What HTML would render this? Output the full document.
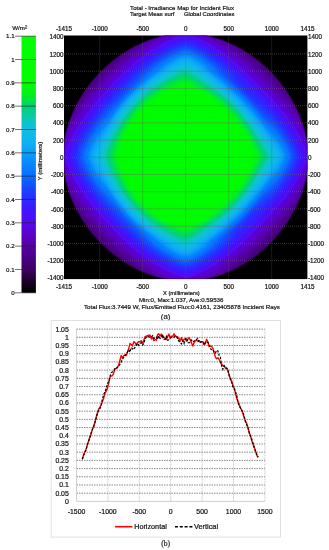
<!DOCTYPE html>
<html><head><meta charset="utf-8"><style>
html,body{margin:0;padding:0;background:#fff;}
body{width:329px;height:550px;overflow:hidden;position:relative;}
svg{position:absolute;left:0;top:0;}
.m{font-family:"Liberation Sans",Arial,sans-serif;font-size:6.15px;fill:#111;stroke:#111;stroke-width:0.2px;}
.c{font-family:"Liberation Sans",Arial,sans-serif;font-size:6.9px;fill:#111;stroke:#111;stroke-width:0.2px;}
.t{font-size:6.3px;}
</style></head><body>
<svg width="329" height="550" viewBox="0 0 329 550">

<defs>
<linearGradient id="cb" x1="0" y1="1" x2="0" y2="0">
<stop offset="0" stop-color="#000000"/>
<stop offset="0.05" stop-color="#1e002d"/>
<stop offset="0.09" stop-color="#3e0064"/>
<stop offset="0.14" stop-color="#4b0087"/>
<stop offset="0.18" stop-color="#5500a5"/>
<stop offset="0.23" stop-color="#5c03c8"/>
<stop offset="0.27" stop-color="#5508ee"/>
<stop offset="0.32" stop-color="#4114ff"/>
<stop offset="0.36" stop-color="#2d28ff"/>
<stop offset="0.41" stop-color="#1648ff"/>
<stop offset="0.45" stop-color="#0a69ff"/>
<stop offset="0.5" stop-color="#0587ff"/>
<stop offset="0.55" stop-color="#0aa0fa"/>
<stop offset="0.59" stop-color="#0fb4f0"/>
<stop offset="0.64" stop-color="#0fbee1"/>
<stop offset="0.68" stop-color="#0ac8b4"/>
<stop offset="0.73" stop-color="#00d26e"/>
<stop offset="0.77" stop-color="#00f01e"/>
<stop offset="0.82" stop-color="#00ff00"/>
<stop offset="1" stop-color="#00ff00"/>
</linearGradient>
<clipPath id="disk"><path d="M308.60 157.30L308.53 154.08L308.35 150.87L308.06 147.66L307.68 144.47L307.21 141.29L306.64 138.13L305.98 134.99L305.25 131.87L304.43 128.77L303.52 125.70L302.55 122.66L301.49 119.65L300.36 116.66L299.16 113.71L297.88 110.79L296.54 107.91L295.12 105.06L293.64 102.25L292.10 99.48L290.49 96.74L288.82 94.05L287.08 91.40L285.29 88.79L283.44 86.22L281.52 83.70L279.55 81.22L277.53 78.79L275.44 76.40L273.31 74.07L271.12 71.78L268.87 69.55L266.58 67.36L264.23 65.23L261.84 63.15L259.39 61.13L256.90 59.16L254.36 57.25L251.77 55.40L249.14 53.61L246.46 51.88L243.74 50.22L240.98 48.62L238.17 47.08L235.33 45.61L232.44 44.21L229.52 42.89L226.56 41.63L223.57 40.45L220.54 39.35L217.48 38.32L214.39 37.38L211.27 36.52L208.13 35.75L204.96 35.06L201.77 34.47L198.56 33.97L195.34 33.56L192.10 33.26L188.85 33.07L185.60 33.00L182.35 33.07L179.10 33.26L175.86 33.56L172.64 33.97L169.43 34.47L166.24 35.06L163.07 35.75L159.93 36.52L156.81 37.38L153.72 38.32L150.66 39.35L147.63 40.45L144.64 41.63L141.68 42.89L138.76 44.21L135.87 45.61L133.03 47.08L130.22 48.62L127.46 50.22L124.74 51.88L122.06 53.61L119.43 55.40L116.84 57.25L114.30 59.16L111.81 61.13L109.36 63.15L106.97 65.23L104.62 67.36L102.33 69.55L100.08 71.78L97.89 74.07L95.76 76.40L93.67 78.79L91.65 81.22L89.68 83.70L87.76 86.22L85.91 88.79L84.12 91.40L82.38 94.05L80.71 96.74L79.10 99.48L77.56 102.25L76.08 105.06L74.66 107.91L73.32 110.79L72.04 113.71L70.84 116.66L69.71 119.65L68.65 122.66L67.68 125.70L66.77 128.77L65.95 131.87L65.22 134.99L64.56 138.13L63.99 141.29L63.52 144.47L63.14 147.66L62.85 150.87L62.67 154.08L62.60 157.30L62.67 160.52L62.85 163.73L63.14 166.94L63.52 170.13L63.99 173.31L64.56 176.47L65.22 179.61L65.95 182.73L66.77 185.83L67.68 188.90L68.65 191.94L69.71 194.95L70.84 197.94L72.04 200.89L73.32 203.81L74.66 206.69L76.08 209.54L77.56 212.35L79.10 215.12L80.71 217.86L82.38 220.55L84.12 223.20L85.91 225.81L87.76 228.38L89.68 230.90L91.65 233.38L93.67 235.81L95.76 238.20L97.89 240.53L100.08 242.82L102.33 245.05L104.62 247.24L106.97 249.37L109.36 251.45L111.81 253.47L114.30 255.44L116.84 257.35L119.43 259.20L122.06 260.99L124.74 262.72L127.46 264.38L130.22 265.98L133.03 267.52L135.87 268.99L138.76 270.39L141.68 271.71L144.64 272.97L147.63 274.15L150.66 275.25L153.72 276.28L156.81 277.22L159.93 278.08L163.07 278.85L166.24 279.54L169.43 280.13L172.64 280.63L175.86 281.04L179.10 281.34L182.35 281.53L185.60 281.60L188.85 281.53L192.10 281.34L195.34 281.04L198.56 280.63L201.77 280.13L204.96 279.54L208.13 278.85L211.27 278.08L214.39 277.22L217.48 276.28L220.54 275.25L223.57 274.15L226.56 272.97L229.52 271.71L232.44 270.39L235.33 268.99L238.17 267.52L240.98 265.98L243.74 264.38L246.46 262.72L249.14 260.99L251.77 259.20L254.36 257.35L256.90 255.44L259.39 253.47L261.84 251.45L264.23 249.37L266.58 247.24L268.87 245.05L271.12 242.82L273.31 240.53L275.44 238.20L277.53 235.81L279.55 233.38L281.52 230.90L283.44 228.38L285.29 225.81L287.08 223.20L288.82 220.55L290.49 217.86L292.10 215.12L293.64 212.35L295.12 209.54L296.54 206.69L297.88 203.81L299.16 200.89L300.36 197.94L301.49 194.95L302.55 191.94L303.52 188.90L304.43 185.83L305.25 182.73L305.98 179.61L306.64 176.47L307.21 173.31L307.68 170.13L308.06 166.94L308.35 163.73L308.53 160.52Z"/></clipPath>
<clipPath id="sq"><rect x="64" y="35.5" width="243.4" height="243.6"/></clipPath>
<filter id="bl" x="-5%" y="-5%" width="110%" height="110%"><feGaussianBlur stdDeviation="1.2"/></filter>
</defs>
<text class="m" x="130.1" y="9.9" textLength="103.9" lengthAdjust="spacingAndGlyphs">Total - Irradiance Map for Incident Flux</text>
<text class="m" x="130.1" y="16.3" textLength="44.3" lengthAdjust="spacingAndGlyphs">Target Meas surf</text>
<text class="m" x="183.9" y="16.3" textLength="50.5" lengthAdjust="spacingAndGlyphs">Global Coordinates</text>
<rect x="21.5" y="36.2" width="14.4" height="256.6" fill="url(#cb)"/>
<line x1="15" x2="35.9" y1="292.8" y2="292.8" stroke="#222" stroke-opacity="0.7" stroke-width="0.9"/>
<text class="m" x="14.6" y="295" text-anchor="end">0</text>
<line x1="15" x2="35.9" y1="269.47" y2="269.47" stroke="#222" stroke-opacity="0.7" stroke-width="0.9"/>
<text class="m" x="14.6" y="271.67" text-anchor="end">0.1</text>
<line x1="15" x2="35.9" y1="246.15" y2="246.15" stroke="#222" stroke-opacity="0.7" stroke-width="0.9"/>
<text class="m" x="14.6" y="248.35" text-anchor="end">0.2</text>
<line x1="15" x2="35.9" y1="222.82" y2="222.82" stroke="#222" stroke-opacity="0.7" stroke-width="0.9"/>
<text class="m" x="14.6" y="225.02" text-anchor="end">0.3</text>
<line x1="15" x2="35.9" y1="199.49" y2="199.49" stroke="#222" stroke-opacity="0.7" stroke-width="0.9"/>
<text class="m" x="14.6" y="201.69" text-anchor="end">0.4</text>
<line x1="15" x2="35.9" y1="176.16" y2="176.16" stroke="#222" stroke-opacity="0.7" stroke-width="0.9"/>
<text class="m" x="14.6" y="178.36" text-anchor="end">0.5</text>
<line x1="15" x2="35.9" y1="152.84" y2="152.84" stroke="#222" stroke-opacity="0.7" stroke-width="0.9"/>
<text class="m" x="14.6" y="155.04" text-anchor="end">0.6</text>
<line x1="15" x2="35.9" y1="129.51" y2="129.51" stroke="#222" stroke-opacity="0.7" stroke-width="0.9"/>
<text class="m" x="14.6" y="131.71" text-anchor="end">0.7</text>
<line x1="15" x2="35.9" y1="106.18" y2="106.18" stroke="#222" stroke-opacity="0.7" stroke-width="0.9"/>
<text class="m" x="14.6" y="108.38" text-anchor="end">0.8</text>
<line x1="15" x2="35.9" y1="82.85" y2="82.85" stroke="#222" stroke-opacity="0.7" stroke-width="0.9"/>
<text class="m" x="14.6" y="85.05" text-anchor="end">0.9</text>
<line x1="15" x2="35.9" y1="59.53" y2="59.53" stroke="#222" stroke-opacity="0.7" stroke-width="0.9"/>
<text class="m" x="14.6" y="61.73" text-anchor="end">1</text>
<line x1="15" x2="35.9" y1="36.2" y2="36.2" stroke="#222" stroke-opacity="0.7" stroke-width="0.9"/>
<text class="m" x="14.6" y="38.4" text-anchor="end">1.1</text>
<text class="m" x="12.2" y="30.4">W/m<tspan style="font-size:7.6px;stroke-width:0.1px" dy="0.6">²</tspan></text>
<text class="m" transform="translate(42.3,180.4) rotate(-90)" textLength="38.6" lengthAdjust="spacingAndGlyphs">Y (millimeters)</text>
<rect x="64" y="35.5" width="243.4" height="243.6" fill="#000"/>
<g clip-path="url(#sq)"><g clip-path="url(#disk)"><g filter="url(#bl)">
<rect x="59" y="30.5" width="253.4" height="253.6" fill="#380059"/>
<path d="M320.2 156.0L320.1 151.3L319.8 146.6L319.4 142.0L318.9 137.3L318.1 132.7L317.2 128.1L316.2 123.5L315.0 119.0L312.6 114.9L309.9 110.9L307.2 107.0L304.4 103.3L301.6 99.6L298.8 96.0L295.9 92.6L293.0 89.1L290.1 85.8L287.2 82.5L284.2 79.3L281.2 76.1L278.2 72.9L275.2 69.9L272.1 66.8L269.1 63.8L265.9 60.8L262.7 57.8L259.5 54.8L256.2 51.9L252.9 49.0L249.4 46.1L246.0 43.2L242.4 40.4L238.7 37.6L235.0 34.8L231.1 32.1L227.1 29.4L223.0 27.0L218.5 25.8L213.9 24.8L209.3 23.9L204.7 23.1L200.0 22.6L195.4 22.2L190.7 21.9L186.0 21.8L181.3 21.9L176.6 22.2L172.0 22.6L167.3 23.1L162.7 23.9L158.1 24.8L153.5 25.8L149.0 27.0L144.8 29.3L140.9 32.0L137.0 34.7L133.2 37.4L129.5 40.2L125.9 43.0L122.4 45.9L119.0 48.7L115.6 51.6L112.3 54.6L109.0 57.5L105.8 60.5L102.7 63.5L99.6 66.5L96.5 69.6L93.5 72.7L90.5 75.8L87.5 79.0L84.6 82.3L81.6 85.6L78.7 89.0L75.9 92.4L73.0 95.9L70.2 99.5L67.4 103.2L64.7 107.0L62.0 110.9L59.3 114.8L57.0 119.0L55.8 123.5L54.8 128.1L53.9 132.7L53.1 137.3L52.6 142.0L52.2 146.6L51.9 151.3L51.8 156.0L51.9 160.7L52.2 165.4L52.6 170.0L53.1 174.7L53.9 179.3L54.8 183.9L55.8 188.5L57.0 193.0L59.3 197.2L62.0 201.1L64.7 205.0L67.4 208.8L70.2 212.5L73.0 216.1L75.9 219.6L78.7 223.0L81.6 226.4L84.6 229.7L87.5 233.0L90.5 236.2L93.5 239.3L96.5 242.4L99.6 245.5L102.7 248.5L105.8 251.5L109.0 254.5L112.3 257.4L115.6 260.4L119.0 263.3L122.4 266.1L125.9 269.0L129.5 271.8L133.2 274.6L137.0 277.3L140.9 280.0L144.8 282.7L149.0 285.0L153.5 286.2L158.1 287.2L162.7 288.1L167.3 288.9L172.0 289.4L176.6 289.8L181.3 290.1L186.0 290.2L190.7 290.1L195.4 289.8L200.0 289.4L204.7 288.9L209.3 288.1L213.9 287.2L218.5 286.2L223.0 285.0L227.1 282.6L231.1 279.9L235.0 277.2L238.7 274.4L242.4 271.6L246.0 268.8L249.4 265.9L252.9 263.0L256.2 260.1L259.5 257.2L262.7 254.2L265.9 251.2L269.1 248.2L272.1 245.2L275.2 242.1L278.2 239.1L281.2 235.9L284.2 232.7L287.2 229.5L290.1 226.2L293.0 222.9L295.9 219.4L298.8 216.0L301.6 212.4L304.4 208.7L307.2 205.0L309.9 201.1L312.6 197.1L315.0 193.0L316.2 188.5L317.2 183.9L318.1 179.3L318.9 174.7L319.4 170.0L319.8 165.4L320.1 160.7Z" fill="#41006b"/>
<path d="M320.2 156.0L320.1 151.3L319.8 146.6L319.4 142.0L318.9 137.3L318.1 132.7L316.4 128.3L314.0 124.1L311.5 120.0L308.9 116.1L306.3 112.2L303.6 108.5L300.9 104.8L298.2 101.3L295.4 97.8L292.6 94.4L289.8 91.1L287.0 87.9L284.2 84.7L281.3 81.6L278.4 78.5L275.5 75.4L272.5 72.4L269.6 69.5L266.6 66.5L263.5 63.6L260.4 60.7L257.3 57.8L254.1 55.0L250.9 52.2L247.6 49.4L244.2 46.6L240.7 43.8L237.2 41.1L233.5 38.4L229.8 35.7L225.9 33.1L222.0 30.5L217.9 28.0L213.7 25.6L209.3 23.9L204.7 23.1L200.0 22.6L195.4 22.2L190.7 21.9L186.0 21.8L181.3 21.9L176.6 22.2L172.0 22.6L167.3 23.1L162.7 23.9L158.3 25.6L154.1 27.9L150.0 30.4L146.0 32.9L142.1 35.5L138.4 38.1L134.7 40.8L131.1 43.5L127.7 46.3L124.2 49.0L120.9 51.8L117.6 54.6L114.4 57.5L111.3 60.4L108.2 63.2L105.1 66.2L102.1 69.1L99.1 72.1L96.2 75.1L93.2 78.2L90.4 81.3L87.5 84.4L84.6 87.6L81.8 90.9L79.0 94.2L76.3 97.7L73.5 101.1L70.8 104.7L68.1 108.4L65.5 112.1L62.9 116.0L60.4 120.0L57.9 124.1L55.6 128.3L53.9 132.7L53.1 137.3L52.6 142.0L52.2 146.6L51.9 151.3L51.8 156.0L51.9 160.7L52.2 165.4L52.6 170.0L53.1 174.7L53.9 179.3L55.6 183.7L57.9 187.9L60.4 192.0L62.9 196.0L65.5 199.9L68.1 203.6L70.8 207.3L73.5 210.9L76.3 214.3L79.0 217.8L81.8 221.1L84.6 224.4L87.5 227.6L90.4 230.7L93.2 233.8L96.2 236.9L99.1 239.9L102.1 242.9L105.1 245.8L108.2 248.8L111.3 251.6L114.4 254.5L117.6 257.4L120.9 260.2L124.2 263.0L127.7 265.7L131.1 268.5L134.7 271.2L138.4 273.9L142.1 276.5L146.0 279.1L150.0 281.6L154.1 284.1L158.3 286.4L162.7 288.1L167.3 288.9L172.0 289.4L176.6 289.8L181.3 290.1L186.0 290.2L190.7 290.1L195.4 289.8L200.0 289.4L204.7 288.9L209.3 288.1L213.7 286.4L217.9 284.0L222.0 281.5L225.9 278.9L229.8 276.3L233.5 273.6L237.2 270.9L240.7 268.2L244.2 265.4L247.6 262.6L250.9 259.8L254.1 257.0L257.3 254.2L260.4 251.3L263.5 248.4L266.6 245.5L269.6 242.5L272.5 239.6L275.5 236.6L278.4 233.5L281.3 230.4L284.2 227.3L287.0 224.1L289.8 220.9L292.6 217.6L295.4 214.2L298.2 210.7L300.9 207.2L303.6 203.5L306.3 199.8L308.9 195.9L311.5 192.0L314.0 187.9L316.4 183.7L318.1 179.3L318.9 174.7L319.4 170.0L319.8 165.4L320.1 160.7Z" fill="#460079"/>
<path d="M320.2 156.0L320.1 151.3L319.8 146.6L319.4 142.0L318.2 137.4L316.1 133.1L313.8 128.8L311.5 124.7L309.0 120.7L306.5 116.8L303.9 113.1L301.3 109.4L298.6 105.9L295.9 102.4L293.2 99.0L290.5 95.7L287.7 92.4L284.9 89.3L282.1 86.1L279.3 83.1L276.5 80.1L273.7 77.1L270.8 74.1L267.9 71.2L264.9 68.3L262.0 65.5L258.9 62.6L255.9 59.8L252.7 57.0L249.6 54.3L246.3 51.5L243.0 48.8L239.6 46.1L236.1 43.4L232.6 40.7L228.9 38.1L225.2 35.5L221.3 33.0L217.3 30.5L213.2 28.2L208.9 25.9L204.6 23.8L200.0 22.6L195.4 22.2L190.7 21.9L186.0 21.8L181.3 21.9L176.6 22.2L172.0 22.6L167.4 23.8L163.1 25.8L158.8 28.1L154.7 30.4L150.7 32.8L146.8 35.3L143.0 37.9L139.3 40.4L135.7 43.1L132.2 45.7L128.8 48.4L125.5 51.2L122.2 53.9L119.0 56.6L115.8 59.4L112.7 62.2L109.7 65.0L106.7 67.9L103.7 70.8L100.8 73.7L97.9 76.7L95.1 79.7L92.2 82.7L89.4 85.8L86.6 89.0L83.9 92.2L81.2 95.5L78.4 98.8L75.7 102.2L73.1 105.7L70.4 109.3L67.9 113.0L65.3 116.8L62.8 120.7L60.4 124.7L58.1 128.8L55.8 133.1L53.8 137.4L52.6 142.0L52.2 146.6L51.9 151.3L51.8 156.0L51.9 160.7L52.2 165.4L52.6 170.0L53.8 174.6L55.8 178.9L58.1 183.2L60.4 187.3L62.8 191.3L65.3 195.2L67.9 199.0L70.4 202.7L73.1 206.3L75.7 209.8L78.4 213.2L81.2 216.5L83.9 219.8L86.6 223.0L89.4 226.2L92.2 229.3L95.1 232.3L97.9 235.3L100.8 238.3L103.7 241.2L106.7 244.1L109.7 247.0L112.7 249.8L115.8 252.6L119.0 255.4L122.2 258.1L125.5 260.8L128.8 263.6L132.2 266.3L135.7 268.9L139.3 271.6L143.0 274.1L146.8 276.7L150.7 279.2L154.7 281.6L158.8 283.9L163.1 286.2L167.4 288.2L172.0 289.4L176.6 289.8L181.3 290.1L186.0 290.2L190.7 290.1L195.4 289.8L200.0 289.4L204.6 288.2L208.9 286.1L213.2 283.8L217.3 281.5L221.3 279.0L225.2 276.5L228.9 273.9L232.6 271.3L236.1 268.6L239.6 265.9L243.0 263.2L246.3 260.5L249.6 257.7L252.7 255.0L255.9 252.2L258.9 249.4L262.0 246.5L264.9 243.7L267.9 240.8L270.8 237.9L273.7 234.9L276.5 231.9L279.3 228.9L282.1 225.9L284.9 222.7L287.7 219.6L290.5 216.3L293.2 213.0L295.9 209.6L298.6 206.1L301.3 202.6L303.9 198.9L306.5 195.2L309.0 191.3L311.5 187.3L313.8 183.2L316.1 178.9L318.2 174.6L319.4 170.0L319.8 165.4L320.1 160.7Z" fill="#4b0087"/>
<path d="M320.2 156.0L320.1 151.3L319.3 146.7L317.6 142.2L315.6 137.8L313.5 133.5L311.3 129.4L309.0 125.3L306.6 121.4L304.1 117.6L301.5 113.9L298.9 110.4L296.3 106.9L293.7 103.5L291.0 100.2L288.3 96.9L285.6 93.8L282.9 90.6L280.2 87.6L277.4 84.6L274.6 81.6L271.9 78.7L269.0 75.8L266.2 73.0L263.3 70.1L260.4 67.3L257.5 64.5L254.5 61.8L251.4 59.0L248.3 56.3L245.1 53.6L241.9 51.0L238.5 48.3L235.1 45.7L231.6 43.1L228.1 40.5L224.4 37.9L220.6 35.4L216.7 33.0L212.6 30.7L208.5 28.5L204.2 26.4L199.8 24.4L195.3 22.7L190.7 21.9L186.0 21.8L181.3 21.9L176.7 22.7L172.2 24.4L167.8 26.3L163.5 28.4L159.3 30.6L155.3 32.9L151.4 35.2L147.6 37.7L143.8 40.2L140.2 42.7L136.7 45.3L133.3 47.9L129.9 50.5L126.6 53.2L123.4 55.8L120.3 58.5L117.2 61.3L114.1 64.0L111.1 66.8L108.2 69.6L105.3 72.4L102.5 75.3L99.6 78.2L96.8 81.2L94.1 84.2L91.3 87.2L88.6 90.3L85.9 93.5L83.3 96.7L80.6 100.0L77.9 103.3L75.3 106.7L72.7 110.2L70.2 113.8L67.7 117.6L65.2 121.4L62.9 125.3L60.6 129.3L58.4 133.5L56.3 137.8L54.4 142.2L52.7 146.7L51.9 151.3L51.8 156.0L51.9 160.7L52.7 165.3L54.4 169.8L56.3 174.2L58.4 178.5L60.6 182.7L62.9 186.7L65.2 190.6L67.7 194.4L70.2 198.2L72.7 201.8L75.3 205.3L77.9 208.7L80.6 212.0L83.3 215.3L85.9 218.5L88.6 221.7L91.3 224.8L94.1 227.8L96.8 230.8L99.6 233.8L102.5 236.7L105.3 239.6L108.2 242.4L111.1 245.2L114.1 248.0L117.2 250.7L120.3 253.5L123.4 256.2L126.6 258.8L129.9 261.5L133.3 264.1L136.7 266.7L140.2 269.3L143.8 271.8L147.6 274.3L151.4 276.8L155.3 279.1L159.3 281.4L163.5 283.6L167.8 285.7L172.2 287.6L176.7 289.3L181.3 290.1L186.0 290.2L190.7 290.1L195.3 289.3L199.8 287.6L204.2 285.6L208.5 283.5L212.6 281.3L216.7 279.0L220.6 276.6L224.4 274.1L228.1 271.5L231.6 268.9L235.1 266.3L238.5 263.7L241.9 261.0L245.1 258.4L248.3 255.7L251.4 253.0L254.5 250.2L257.5 247.5L260.4 244.7L263.3 241.9L266.2 239.0L269.0 236.2L271.9 233.3L274.6 230.4L277.4 227.4L280.2 224.4L282.9 221.4L285.6 218.2L288.3 215.1L291.0 211.8L293.7 208.5L296.3 205.1L298.9 201.6L301.5 198.1L304.1 194.4L306.6 190.6L309.0 186.7L311.3 182.6L313.5 178.5L315.6 174.2L317.6 169.8L319.3 165.3L320.1 160.7Z" fill="#4f0093"/>
<path d="M319.1 156.0L318.3 151.4L316.9 146.8L315.2 142.4L313.3 138.1L311.3 133.9L309.1 129.8L306.7 125.9L304.4 122.1L301.9 118.3L299.4 114.7L296.8 111.2L294.3 107.8L291.7 104.5L289.0 101.2L286.4 98.0L283.7 94.9L281.1 91.9L278.4 88.9L275.7 85.9L273.0 83.0L270.2 80.2L267.5 77.3L264.7 74.5L261.9 71.7L259.0 69.0L256.1 66.3L253.2 63.5L250.2 60.8L247.1 58.2L244.0 55.5L240.8 52.9L237.6 50.3L234.2 47.7L230.8 45.1L227.3 42.6L223.7 40.1L219.9 37.6L216.1 35.3L212.2 32.9L208.1 30.7L203.9 28.7L199.6 26.8L195.2 25.1L190.6 23.7L186.0 22.9L181.4 23.7L176.8 25.0L172.4 26.7L168.1 28.6L163.9 30.6L159.8 32.8L155.8 35.1L152.0 37.4L148.3 39.8L144.6 42.3L141.1 44.8L137.6 47.3L134.2 49.8L130.9 52.3L127.7 54.9L124.5 57.6L121.4 60.2L118.4 62.9L115.4 65.6L112.5 68.4L109.6 71.1L106.8 73.9L104.0 76.8L101.2 79.6L98.5 82.5L95.8 85.5L93.1 88.5L90.4 91.5L87.8 94.6L85.1 97.8L82.5 101.0L79.9 104.3L77.4 107.6L74.8 111.1L72.3 114.6L69.8 118.3L67.4 122.0L65.1 125.8L62.8 129.8L60.6 133.9L58.6 138.1L56.7 142.4L55.0 146.8L53.7 151.4L52.9 156.0L53.7 160.6L55.0 165.2L56.7 169.6L58.6 173.9L60.6 178.1L62.8 182.2L65.1 186.2L67.4 190.0L69.8 193.7L72.3 197.4L74.8 200.9L77.4 204.4L79.9 207.7L82.5 211.0L85.1 214.2L87.8 217.4L90.4 220.5L93.1 223.5L95.8 226.5L98.5 229.5L101.2 232.4L104.0 235.2L106.8 238.1L109.6 240.9L112.5 243.6L115.4 246.4L118.4 249.1L121.4 251.8L124.5 254.4L127.7 257.1L130.9 259.7L134.2 262.2L137.6 264.7L141.1 267.2L144.6 269.7L148.3 272.2L152.0 274.6L155.8 276.9L159.8 279.2L163.9 281.4L168.1 283.4L172.4 285.3L176.8 287.0L181.4 288.3L186.0 289.1L190.6 288.3L195.2 286.9L199.6 285.2L203.9 283.3L208.1 281.3L212.2 279.1L216.1 276.7L219.9 274.4L223.7 271.9L227.3 269.4L230.8 266.9L234.2 264.3L237.6 261.7L240.8 259.1L244.0 256.5L247.1 253.8L250.2 251.2L253.2 248.5L256.1 245.7L259.0 243.0L261.9 240.3L264.7 237.5L267.5 234.7L270.2 231.8L273.0 229.0L275.7 226.1L278.4 223.1L281.1 220.1L283.7 217.1L286.4 214.0L289.0 210.8L291.7 207.5L294.3 204.2L296.8 200.8L299.4 197.3L301.9 193.7L304.4 189.9L306.7 186.1L309.1 182.2L311.3 178.1L313.3 173.9L315.2 169.6L316.9 165.2L318.3 160.6Z" fill="#53009f"/>
<path d="M317.1 156.0L316.2 151.5L314.9 147.0L313.2 142.6L311.3 138.4L309.2 134.3L307.0 130.3L304.8 126.4L302.4 122.6L300.0 119.0L297.5 115.4L295.0 112.0L292.4 108.6L289.9 105.3L287.3 102.1L284.7 99.0L282.1 96.0L279.5 93.0L276.8 90.0L274.2 87.1L271.5 84.3L268.8 81.5L266.1 78.7L263.3 75.9L260.6 73.2L257.8 70.5L254.9 67.8L252.0 65.1L249.1 62.4L246.1 59.8L243.1 57.2L239.9 54.6L236.7 52.0L233.5 49.4L230.1 46.9L226.6 44.4L223.0 42.0L219.4 39.6L215.6 37.2L211.7 35.0L207.7 32.8L203.6 30.7L199.4 28.8L195.0 27.1L190.5 25.8L186.0 24.9L181.5 25.7L177.0 27.1L172.6 28.7L168.4 30.6L164.2 32.6L160.2 34.8L156.3 37.0L152.5 39.3L148.9 41.7L145.3 44.1L141.7 46.5L138.3 48.9L135.0 51.4L131.7 54.0L128.6 56.5L125.5 59.1L122.4 61.7L119.4 64.4L116.5 67.1L113.7 69.8L110.8 72.5L108.0 75.3L105.3 78.1L102.6 80.9L99.9 83.7L97.2 86.6L94.6 89.6L92.0 92.6L89.4 95.6L86.8 98.7L84.2 101.9L81.7 105.1L79.2 108.4L76.7 111.8L74.2 115.3L71.7 118.9L69.3 122.5L67.0 126.3L64.8 130.2L62.6 134.2L60.6 138.4L58.7 142.6L57.1 147.0L55.7 151.5L54.9 156.0L55.7 160.5L57.1 165.0L58.7 169.4L60.6 173.6L62.6 177.8L64.8 181.8L67.0 185.7L69.3 189.5L71.7 193.1L74.2 196.7L76.7 200.2L79.2 203.6L81.7 206.9L84.2 210.1L86.8 213.3L89.4 216.4L92.0 219.4L94.6 222.4L97.2 225.4L99.9 228.3L102.6 231.1L105.3 233.9L108.0 236.7L110.8 239.5L113.7 242.2L116.5 244.9L119.4 247.6L122.4 250.3L125.5 252.9L128.6 255.5L131.7 258.0L135.0 260.6L138.3 263.1L141.7 265.5L145.3 267.9L148.9 270.3L152.5 272.7L156.3 275.0L160.2 277.2L164.2 279.4L168.4 281.4L172.6 283.3L177.0 284.9L181.5 286.3L186.0 287.1L190.5 286.2L195.0 284.9L199.4 283.2L203.6 281.3L207.7 279.2L211.7 277.0L215.6 274.8L219.4 272.4L223.0 270.0L226.6 267.6L230.1 265.1L233.5 262.6L236.7 260.0L239.9 257.4L243.1 254.8L246.1 252.2L249.1 249.6L252.0 246.9L254.9 244.2L257.8 241.5L260.6 238.8L263.3 236.1L266.1 233.3L268.8 230.5L271.5 227.7L274.2 224.9L276.8 222.0L279.5 219.0L282.1 216.0L284.7 213.0L287.3 209.9L289.9 206.7L292.4 203.4L295.0 200.0L297.5 196.6L300.0 193.0L302.4 189.4L304.8 185.6L307.0 181.7L309.2 177.7L311.3 173.6L313.2 169.4L314.9 165.0L316.2 160.5Z" fill="#5601ac"/>
<path d="M315.0 156.0L314.2 151.5L312.8 147.1L311.1 142.8L309.2 138.7L307.2 134.6L305.0 130.7L302.8 126.9L300.4 123.2L298.1 119.6L295.6 116.1L293.1 112.7L290.6 109.4L288.1 106.2L285.6 103.1L283.0 100.0L280.4 97.0L277.8 94.1L275.2 91.2L272.6 88.3L270.0 85.5L267.4 82.7L264.7 80.0L262.0 77.3L259.3 74.6L256.5 71.9L253.7 69.3L250.9 66.6L248.0 64.0L245.1 61.4L242.1 58.8L239.0 56.3L235.9 53.7L232.7 51.2L229.4 48.7L226.0 46.2L222.4 43.8L218.8 41.5L215.1 39.2L211.3 37.0L207.4 34.8L203.3 32.8L199.2 30.9L194.9 29.2L190.5 27.8L186.0 27.0L181.5 27.8L177.1 29.2L172.8 30.8L168.7 32.6L164.6 34.6L160.7 36.8L156.8 39.0L153.1 41.2L149.4 43.4L145.9 45.8L142.4 48.2L139.1 50.6L135.8 53.1L132.6 55.6L129.5 58.1L126.4 60.7L123.4 63.3L120.5 65.9L117.7 68.5L114.8 71.2L112.1 73.9L109.3 76.6L106.6 79.3L104.0 82.1L101.3 84.9L98.7 87.8L96.1 90.7L93.6 93.6L91.0 96.6L88.5 99.7L86.0 102.8L83.5 106.0L81.0 109.2L78.5 112.6L76.1 116.0L73.7 119.5L71.3 123.1L69.0 126.8L66.8 130.7L64.6 134.6L62.6 138.7L60.8 142.8L59.2 147.1L57.8 151.5L57.0 156.0L57.8 160.5L59.2 164.9L60.8 169.2L62.6 173.3L64.6 177.4L66.8 181.3L69.0 185.2L71.3 188.9L73.7 192.5L76.1 196.0L78.5 199.4L81.0 202.8L83.5 206.0L86.0 209.2L88.5 212.3L91.0 215.4L93.6 218.4L96.1 221.3L98.7 224.2L101.3 227.1L104.0 229.9L106.6 232.7L109.3 235.4L112.1 238.1L114.8 240.8L117.7 243.5L120.5 246.1L123.4 248.7L126.4 251.3L129.5 253.9L132.6 256.4L135.8 258.9L139.1 261.4L142.4 263.8L145.9 266.2L149.4 268.6L153.1 270.8L156.8 273.0L160.7 275.2L164.6 277.4L168.7 279.4L172.8 281.2L177.1 282.8L181.5 284.2L186.0 285.0L190.5 284.2L194.9 282.8L199.2 281.1L203.3 279.2L207.4 277.2L211.3 275.0L215.1 272.8L218.8 270.5L222.4 268.2L226.0 265.8L229.4 263.3L232.7 260.8L235.9 258.3L239.0 255.7L242.1 253.2L245.1 250.6L248.0 248.0L250.9 245.4L253.7 242.7L256.5 240.1L259.3 237.4L262.0 234.7L264.7 232.0L267.4 229.3L270.0 226.5L272.6 223.7L275.2 220.8L277.8 217.9L280.4 215.0L283.0 212.0L285.6 208.9L288.1 205.8L290.6 202.6L293.1 199.3L295.6 195.9L298.1 192.4L300.4 188.8L302.8 185.1L305.0 181.3L307.2 177.4L309.2 173.3L311.1 169.2L312.8 164.9L314.2 160.5Z" fill="#5902ba"/>
<path d="M312.8 156.0L312.0 151.6L310.6 147.3L308.9 143.1L307.1 139.0L305.0 135.0L302.9 131.2L300.7 127.4L298.4 123.8L296.0 120.3L293.6 116.8L291.2 113.5L288.7 110.3L286.2 107.1L283.7 104.1L281.2 101.1L278.6 98.1L276.1 95.2L273.6 92.4L271.0 89.6L268.4 86.9L265.8 84.2L263.2 81.5L260.5 78.8L257.9 76.2L255.2 73.5L252.5 70.9L249.7 68.3L246.9 65.7L244.0 63.2L241.1 60.6L238.1 58.1L235.0 55.5L231.8 53.1L228.6 50.6L225.3 48.2L221.8 45.8L218.3 43.5L214.6 41.2L210.9 39.1L207.0 37.0L203.0 34.9L198.9 33.1L194.7 31.4L190.4 30.0L186.0 29.2L181.6 30.0L177.3 31.4L173.1 33.0L169.0 34.8L165.0 36.8L161.1 38.8L157.3 40.9L153.6 43.1L150.0 45.3L146.6 47.6L143.2 50.0L139.9 52.4L136.7 54.8L133.5 57.3L130.5 59.8L127.5 62.3L124.5 64.9L121.7 67.5L118.9 70.1L116.1 72.7L113.4 75.3L110.7 78.0L108.0 80.7L105.4 83.5L102.9 86.2L100.3 89.0L97.8 91.9L95.2 94.8L92.7 97.7L90.3 100.7L87.8 103.8L85.3 106.9L82.9 110.1L80.5 113.4L78.1 116.7L75.7 120.2L73.4 123.7L71.1 127.4L68.9 131.1L66.8 135.0L64.8 139.0L63.0 143.1L61.4 147.3L60.0 151.6L59.2 156.0L60.0 160.4L61.4 164.7L63.0 168.9L64.8 173.0L66.8 177.0L68.9 180.9L71.1 184.6L73.4 188.3L75.7 191.8L78.1 195.3L80.5 198.6L82.9 201.9L85.3 205.1L87.8 208.2L90.3 211.3L92.7 214.3L95.2 217.2L97.8 220.1L100.3 223.0L102.9 225.8L105.4 228.5L108.0 231.3L110.7 234.0L113.4 236.7L116.1 239.3L118.9 241.9L121.7 244.5L124.5 247.1L127.5 249.7L130.5 252.2L133.5 254.7L136.7 257.2L139.9 259.6L143.2 262.0L146.6 264.4L150.0 266.7L153.6 268.9L157.3 271.1L161.1 273.2L165.0 275.2L169.0 277.2L173.1 279.0L177.3 280.6L181.6 282.0L186.0 282.8L190.4 282.0L194.7 280.6L198.9 278.9L203.0 277.1L207.0 275.0L210.9 272.9L214.6 270.8L218.3 268.5L221.8 266.2L225.3 263.8L228.6 261.4L231.8 258.9L235.0 256.5L238.1 253.9L241.1 251.4L244.0 248.8L246.9 246.3L249.7 243.7L252.5 241.1L255.2 238.5L257.9 235.8L260.5 233.2L263.2 230.5L265.8 227.8L268.4 225.1L271.0 222.4L273.6 219.6L276.1 216.8L278.6 213.9L281.2 210.9L283.7 207.9L286.2 204.9L288.7 201.7L291.2 198.5L293.6 195.2L296.0 191.7L298.4 188.2L300.7 184.6L302.9 180.8L305.0 177.0L307.1 173.0L308.9 168.9L310.6 164.7L312.0 160.4Z" fill="#5c03c8"/>
<path d="M310.6 156.0L309.7 151.7L308.4 147.4L306.7 143.3L304.9 139.3L302.9 135.4L300.8 131.6L298.6 127.9L296.3 124.4L294.0 120.9L291.6 117.6L289.2 114.3L286.7 111.1L284.3 108.1L281.8 105.0L279.4 102.1L276.8 99.2L274.3 96.5L271.7 93.7L269.2 91.0L266.6 88.3L264.1 85.7L261.5 83.1L258.9 80.5L256.3 77.9L253.7 75.3L251.1 72.7L248.4 70.1L245.7 67.5L242.9 65.0L240.0 62.4L237.1 59.9L234.1 57.4L231.0 54.9L227.8 52.5L224.5 50.1L221.2 47.7L217.7 45.4L214.1 43.2L210.4 41.0L206.6 39.0L202.7 37.1L198.7 35.3L194.6 33.6L190.3 32.3L186.0 31.4L181.7 32.2L177.4 33.6L173.3 35.2L169.3 37.0L165.3 38.8L161.5 40.7L157.8 42.8L154.2 45.0L150.6 47.2L147.2 49.5L143.9 51.8L140.7 54.2L137.5 56.6L134.4 59.0L131.4 61.5L128.5 64.0L125.6 66.5L122.8 69.1L120.1 71.6L117.4 74.2L114.7 76.8L112.1 79.5L109.5 82.1L106.9 84.8L104.4 87.5L101.9 90.3L99.4 93.1L96.9 95.9L94.5 98.8L92.0 101.8L89.6 104.8L87.2 107.8L84.8 111.0L82.5 114.2L80.1 117.5L77.8 120.8L75.5 124.3L73.3 127.9L71.1 131.6L69.0 135.4L67.0 139.3L65.2 143.3L63.6 147.4L62.2 151.7L61.4 156.0L62.2 160.3L63.6 164.6L65.2 168.7L67.0 172.7L69.0 176.6L71.1 180.4L73.3 184.1L75.5 187.7L77.8 191.2L80.1 194.5L82.5 197.8L84.8 201.0L87.2 204.2L89.6 207.2L92.0 210.2L94.5 213.2L96.9 216.1L99.4 218.9L101.9 221.7L104.4 224.5L106.9 227.2L109.5 229.9L112.1 232.5L114.7 235.2L117.4 237.8L120.1 240.4L122.8 242.9L125.6 245.5L128.5 248.0L131.4 250.5L134.4 253.0L137.5 255.4L140.7 257.8L143.9 260.2L147.2 262.5L150.6 264.8L154.2 267.0L157.8 269.2L161.5 271.3L165.3 273.2L169.3 275.0L173.3 276.8L177.4 278.4L181.7 279.8L186.0 280.6L190.3 279.7L194.6 278.4L198.7 276.7L202.7 274.9L206.6 273.0L210.4 271.0L214.1 268.8L217.7 266.6L221.2 264.3L224.5 261.9L227.8 259.5L231.0 257.1L234.1 254.6L237.1 252.1L240.0 249.6L242.9 247.0L245.7 244.5L248.4 241.9L251.1 239.3L253.7 236.7L256.3 234.1L258.9 231.5L261.5 228.9L264.1 226.3L266.6 223.7L269.2 221.0L271.7 218.3L274.3 215.5L276.8 212.8L279.4 209.9L281.8 207.0L284.3 203.9L286.7 200.9L289.2 197.7L291.6 194.4L294.0 191.1L296.3 187.6L298.6 184.1L300.8 180.4L302.9 176.6L304.9 172.7L306.7 168.7L308.4 164.6L309.7 160.3Z" fill="#5905d7"/>
<path d="M308.4 156.0L307.5 151.8L306.2 147.6L304.5 143.5L302.7 139.6L300.8 135.8L298.7 132.1L296.5 128.5L294.2 125.0L291.9 121.6L289.6 118.3L287.2 115.1L284.8 112.0L282.4 109.0L279.9 106.1L277.4 103.2L274.9 100.5L272.4 97.8L269.9 95.1L267.4 92.4L264.9 89.8L262.4 87.2L259.8 84.7L257.3 82.1L254.8 79.6L252.2 77.1L249.7 74.5L247.0 72.0L244.4 69.4L241.7 66.9L238.9 64.4L236.1 61.8L233.2 59.3L230.2 56.8L227.0 54.4L223.8 52.0L220.5 49.7L217.1 47.4L213.6 45.2L210.0 43.0L206.3 41.0L202.4 39.1L198.5 37.4L194.4 35.8L190.2 34.5L186.0 33.6L181.8 34.4L177.6 35.8L173.5 37.2L169.5 38.9L165.7 40.7L161.9 42.7L158.3 44.7L154.7 46.9L151.3 49.1L147.9 51.3L144.6 53.6L141.5 56.0L138.4 58.3L135.4 60.8L132.4 63.2L129.6 65.7L126.8 68.2L124.1 70.7L121.4 73.3L118.7 75.8L116.1 78.4L113.6 81.0L111.0 83.6L108.5 86.2L106.0 88.9L103.6 91.6L101.1 94.3L98.7 97.1L96.2 99.9L93.8 102.8L91.4 105.7L89.1 108.7L86.8 111.8L84.4 115.0L82.1 118.2L79.9 121.5L77.6 124.9L75.4 128.4L73.3 132.0L71.2 135.8L69.2 139.6L67.4 143.5L65.8 147.6L64.4 151.8L63.6 156.0L64.4 160.2L65.8 164.4L67.4 168.5L69.2 172.4L71.2 176.2L73.3 180.0L75.4 183.6L77.6 187.1L79.9 190.5L82.1 193.8L84.4 197.0L86.8 200.2L89.1 203.3L91.4 206.3L93.8 209.2L96.2 212.1L98.7 214.9L101.1 217.7L103.6 220.4L106.0 223.1L108.5 225.8L111.0 228.4L113.6 231.0L116.1 233.6L118.7 236.2L121.4 238.7L124.1 241.3L126.8 243.8L129.6 246.3L132.4 248.8L135.4 251.2L138.4 253.7L141.5 256.0L144.6 258.4L147.9 260.7L151.3 262.9L154.7 265.1L158.3 267.3L161.9 269.3L165.7 271.3L169.5 273.1L173.5 274.8L177.6 276.2L181.8 277.6L186.0 278.4L190.2 277.5L194.4 276.2L198.5 274.6L202.4 272.9L206.3 271.0L210.0 269.0L213.6 266.8L217.1 264.6L220.5 262.3L223.8 260.0L227.0 257.6L230.2 255.2L233.2 252.7L236.1 250.2L238.9 247.6L241.7 245.1L244.4 242.6L247.0 240.0L249.7 237.5L252.2 234.9L254.8 232.4L257.3 229.9L259.8 227.3L262.4 224.8L264.9 222.2L267.4 219.6L269.9 216.9L272.4 214.2L274.9 211.5L277.4 208.8L279.9 205.9L282.4 203.0L284.8 200.0L287.2 196.9L289.6 193.7L291.9 190.4L294.2 187.0L296.5 183.5L298.7 179.9L300.8 176.2L302.7 172.4L304.5 168.5L306.2 164.4L307.5 160.2Z" fill="#5607e6"/>
<path d="M306.4 156.0L305.6 151.8L304.2 147.7L302.6 143.7L300.8 139.9L298.9 136.1L296.8 132.5L294.6 128.9L292.4 125.5L290.1 122.2L287.8 118.9L285.4 115.8L283.0 112.8L280.5 109.9L278.1 107.1L275.6 104.3L273.1 101.6L270.7 98.9L268.2 96.3L265.7 93.7L263.3 91.1L260.8 88.6L258.4 86.1L255.9 83.6L253.4 81.1L250.9 78.6L248.4 76.1L245.9 73.6L243.3 71.1L240.6 68.6L237.9 66.1L235.1 63.6L232.3 61.1L229.4 58.6L226.4 56.1L223.2 53.7L220.0 51.4L216.6 49.1L213.2 46.9L209.6 44.8L206.0 42.8L202.2 40.9L198.3 39.1L194.3 37.6L190.2 36.4L186.0 35.6L181.8 36.3L177.7 37.5L173.7 39.0L169.8 40.7L166.0 42.5L162.3 44.4L158.7 46.4L155.2 48.5L151.8 50.7L148.5 53.0L145.3 55.2L142.2 57.6L139.2 60.0L136.2 62.4L133.4 64.8L130.6 67.3L127.8 69.8L125.1 72.2L122.5 74.7L119.9 77.3L117.4 79.8L114.9 82.3L112.4 84.9L109.9 87.5L107.5 90.1L105.0 92.8L102.6 95.4L100.2 98.2L97.9 100.9L95.5 103.7L93.1 106.6L90.8 109.6L88.5 112.6L86.2 115.7L83.9 118.8L81.7 122.1L79.5 125.5L77.3 128.9L75.2 132.5L73.2 136.1L71.2 139.9L69.4 143.7L67.8 147.7L66.4 151.8L65.6 156.0L66.4 160.2L67.8 164.3L69.4 168.3L71.2 172.1L73.2 175.9L75.2 179.5L77.3 183.1L79.5 186.5L81.7 189.9L83.9 193.2L86.2 196.3L88.5 199.4L90.8 202.4L93.1 205.4L95.5 208.3L97.9 211.1L100.2 213.8L102.6 216.6L105.0 219.2L107.5 221.9L109.9 224.5L112.4 227.1L114.9 229.7L117.4 232.2L119.9 234.7L122.5 237.3L125.1 239.8L127.8 242.2L130.6 244.7L133.4 247.2L136.2 249.6L139.2 252.0L142.2 254.4L145.3 256.8L148.5 259.0L151.8 261.3L155.2 263.5L158.7 265.6L162.3 267.6L166.0 269.5L169.8 271.3L173.7 273.0L177.7 274.5L181.8 275.7L186.0 276.4L190.2 275.6L194.3 274.4L198.3 272.9L202.2 271.1L206.0 269.2L209.6 267.2L213.2 265.1L216.6 262.9L220.0 260.6L223.2 258.3L226.4 255.9L229.4 253.4L232.3 250.9L235.1 248.4L237.9 245.9L240.6 243.4L243.3 240.9L245.9 238.4L248.4 235.9L250.9 233.4L253.4 230.9L255.9 228.4L258.4 225.9L260.8 223.4L263.3 220.9L265.7 218.3L268.2 215.7L270.7 213.1L273.1 210.4L275.6 207.7L278.1 204.9L280.5 202.1L283.0 199.2L285.4 196.2L287.8 193.1L290.1 189.8L292.4 186.5L294.6 183.1L296.8 179.5L298.9 175.9L300.8 172.1L302.6 168.3L304.2 164.3L305.6 160.2Z" fill="#510af1"/>
<path d="M304.7 156.0L303.9 151.9L302.6 147.8L301.0 143.9L299.2 140.1L297.2 136.4L295.1 132.8L293.0 129.3L290.8 126.0L288.5 122.7L286.2 119.5L283.8 116.5L281.3 113.6L278.9 110.7L276.5 107.9L274.0 105.2L271.6 102.5L269.2 99.9L266.7 97.3L264.3 94.8L261.9 92.3L259.5 89.8L257.1 87.3L254.7 84.9L252.2 82.4L249.8 80.0L247.3 77.5L244.8 75.1L242.3 72.6L239.7 70.1L237.0 67.6L234.3 65.2L231.5 62.7L228.7 60.2L225.7 57.7L222.6 55.3L219.5 52.9L216.2 50.7L212.8 48.5L209.3 46.4L205.7 44.3L202.0 42.5L198.1 40.7L194.2 39.2L190.1 37.9L186.0 37.1L181.9 37.9L177.8 39.1L173.9 40.5L170.0 42.2L166.2 44.0L162.6 45.9L159.1 47.9L155.6 50.0L152.3 52.2L149.0 54.4L145.9 56.7L142.8 59.0L139.9 61.4L137.0 63.8L134.2 66.2L131.4 68.6L128.7 71.1L126.1 73.5L123.5 76.0L121.0 78.5L118.5 81.0L116.0 83.5L113.5 86.0L111.1 88.6L108.7 91.2L106.3 93.8L104.0 96.4L101.6 99.1L99.3 101.8L97.0 104.6L94.6 107.4L92.3 110.3L90.0 113.3L87.7 116.3L85.5 119.4L83.3 122.6L81.1 125.9L79.0 129.3L76.9 132.8L74.9 136.4L73.0 140.1L71.2 143.9L69.6 147.9L68.3 151.9L67.4 156.0L68.3 160.1L69.6 164.1L71.2 168.1L73.0 171.9L74.9 175.6L76.9 179.2L79.0 182.7L81.1 186.1L83.3 189.4L85.5 192.6L87.7 195.7L90.0 198.7L92.3 201.7L94.6 204.6L97.0 207.4L99.3 210.2L101.6 212.9L104.0 215.6L106.3 218.2L108.7 220.8L111.1 223.4L113.5 226.0L116.0 228.5L118.5 231.0L121.0 233.5L123.5 236.0L126.1 238.5L128.7 240.9L131.4 243.4L134.2 245.8L137.0 248.2L139.9 250.6L142.8 253.0L145.9 255.3L149.0 257.6L152.3 259.8L155.6 262.0L159.1 264.1L162.6 266.1L166.2 268.0L170.0 269.8L173.9 271.5L177.8 272.9L181.9 274.1L186.0 274.9L190.1 274.1L194.2 272.8L198.1 271.3L202.0 269.5L205.7 267.7L209.3 265.6L212.8 263.5L216.2 261.3L219.5 259.1L222.6 256.7L225.7 254.3L228.7 251.8L231.5 249.3L234.3 246.8L237.0 244.4L239.7 241.9L242.3 239.4L244.8 236.9L247.3 234.5L249.8 232.0L252.2 229.6L254.7 227.1L257.1 224.7L259.5 222.2L261.9 219.7L264.3 217.2L266.7 214.7L269.2 212.1L271.6 209.5L274.0 206.8L276.5 204.1L278.9 201.3L281.3 198.4L283.8 195.5L286.2 192.5L288.5 189.3L290.8 186.0L293.0 182.7L295.1 179.2L297.2 175.6L299.2 171.9L301.0 168.1L302.6 164.2L303.9 160.1Z" fill="#490ff8"/>
<path d="M303.1 156.0L302.2 151.9L300.9 148.0L299.3 144.1L297.5 140.3L295.5 136.7L293.5 133.2L291.4 129.7L289.2 126.4L286.9 123.2L284.5 120.2L282.1 117.2L279.7 114.3L277.3 111.5L274.9 108.7L272.5 106.1L270.1 103.5L267.7 100.9L265.3 98.4L262.9 95.9L260.6 93.4L258.2 91.0L255.8 88.6L253.4 86.2L251.1 83.7L248.7 81.3L246.2 78.9L243.8 76.5L241.3 74.1L238.7 71.6L236.1 69.2L233.5 66.7L230.7 64.3L227.9 61.8L225.0 59.4L222.1 56.9L219.0 54.6L215.8 52.2L212.4 50.0L209.0 47.9L205.4 45.9L201.7 44.0L198.0 42.3L194.1 40.7L190.1 39.5L186.0 38.7L181.9 39.4L177.9 40.6L174.0 42.1L170.2 43.7L166.5 45.5L162.9 47.4L159.4 49.4L156.0 51.5L152.7 53.7L149.6 55.9L146.5 58.2L143.5 60.5L140.6 62.9L137.7 65.2L135.0 67.6L132.3 70.0L129.6 72.4L127.0 74.9L124.5 77.3L122.0 79.7L119.5 82.2L117.1 84.7L114.7 87.2L112.3 89.7L110.0 92.2L107.6 94.8L105.3 97.4L103.0 100.0L100.7 102.7L98.4 105.4L96.1 108.2L93.8 111.1L91.6 114.0L89.3 116.9L87.1 120.0L84.9 123.1L82.7 126.4L80.7 129.7L78.6 133.2L76.6 136.7L74.7 140.4L73.0 144.1L71.4 148.0L70.1 152.0L69.2 156.0L70.1 160.0L71.4 164.0L73.0 167.9L74.7 171.6L76.6 175.3L78.6 178.8L80.7 182.3L82.7 185.6L84.9 188.9L87.1 192.0L89.3 195.1L91.6 198.0L93.8 200.9L96.1 203.8L98.4 206.6L100.7 209.3L103.0 212.0L105.3 214.6L107.6 217.2L110.0 219.8L112.3 222.3L114.7 224.8L117.1 227.3L119.5 229.8L122.0 232.3L124.5 234.7L127.0 237.1L129.6 239.6L132.3 242.0L135.0 244.4L137.7 246.8L140.6 249.1L143.5 251.5L146.5 253.8L149.6 256.1L152.7 258.3L156.0 260.5L159.4 262.6L162.9 264.6L166.5 266.5L170.2 268.3L174.0 269.9L177.9 271.4L181.9 272.6L186.0 273.3L190.1 272.5L194.1 271.3L198.0 269.7L201.7 268.0L205.4 266.1L209.0 264.1L212.4 262.0L215.8 259.8L219.0 257.4L222.1 255.1L225.0 252.6L227.9 250.2L230.7 247.7L233.5 245.3L236.1 242.8L238.7 240.4L241.3 237.9L243.8 235.5L246.2 233.1L248.7 230.7L251.1 228.3L253.4 225.8L255.8 223.4L258.2 221.0L260.6 218.6L262.9 216.1L265.3 213.6L267.7 211.1L270.1 208.5L272.5 205.9L274.9 203.3L277.3 200.5L279.7 197.7L282.1 194.8L284.5 191.8L286.9 188.8L289.2 185.6L291.4 182.3L293.5 178.8L295.5 175.3L297.5 171.7L299.3 167.9L300.9 164.0L302.2 160.1Z" fill="#4114ff"/>
<path d="M301.4 156.0L300.6 152.0L299.2 148.1L297.6 144.3L295.8 140.6L293.9 137.0L291.9 133.5L289.7 130.1L287.5 126.9L285.2 123.8L282.8 120.8L280.4 117.8L278.1 115.0L275.7 112.3L273.3 109.6L270.9 107.0L268.6 104.4L266.2 101.9L263.9 99.4L261.5 97.0L259.2 94.6L256.9 92.2L254.6 89.8L252.2 87.4L249.9 85.1L247.5 82.7L245.1 80.3L242.7 77.9L240.3 75.5L237.8 73.1L235.3 70.7L232.6 68.3L230.0 65.8L227.2 63.4L224.4 61.0L221.5 58.6L218.4 56.2L215.3 53.9L212.0 51.6L208.6 49.5L205.1 47.5L201.5 45.6L197.8 43.8L194.0 42.3L190.0 41.0L186.0 40.2L182.0 41.0L178.0 42.2L174.2 43.6L170.4 45.2L166.8 47.0L163.2 48.9L159.8 50.9L156.5 53.0L153.2 55.2L150.1 57.4L147.1 59.7L144.1 62.0L141.3 64.3L138.5 66.7L135.8 69.0L133.1 71.4L130.5 73.8L128.0 76.2L125.5 78.6L123.0 81.0L120.6 83.4L118.2 85.8L115.9 88.3L113.5 90.8L111.2 93.3L108.9 95.8L106.6 98.3L104.4 100.9L102.1 103.6L99.8 106.3L97.6 109.0L95.4 111.8L93.1 114.7L90.9 117.6L88.7 120.6L86.5 123.7L84.4 126.9L82.3 130.1L80.3 133.5L78.3 137.0L76.5 140.6L74.8 144.3L73.2 148.1L71.9 152.0L71.0 156.0L71.9 160.0L73.2 163.9L74.8 167.7L76.5 171.4L78.3 175.0L80.3 178.5L82.3 181.9L84.4 185.1L86.5 188.3L88.7 191.4L90.9 194.4L93.1 197.3L95.4 200.2L97.6 203.0L99.8 205.7L102.1 208.4L104.4 211.1L106.6 213.7L108.9 216.2L111.2 218.7L113.5 221.2L115.9 223.7L118.2 226.2L120.6 228.6L123.0 231.0L125.5 233.4L128.0 235.8L130.5 238.2L133.1 240.6L135.8 243.0L138.5 245.3L141.3 247.7L144.1 250.0L147.1 252.3L150.1 254.6L153.2 256.8L156.5 259.0L159.8 261.1L163.2 263.1L166.8 265.0L170.4 266.8L174.2 268.4L178.0 269.8L182.0 271.0L186.0 271.8L190.0 271.0L194.0 269.7L197.8 268.2L201.5 266.4L205.1 264.5L208.6 262.5L212.0 260.4L215.3 258.1L218.4 255.8L221.5 253.4L224.4 251.0L227.2 248.6L230.0 246.2L232.6 243.7L235.3 241.3L237.8 238.9L240.3 236.5L242.7 234.1L245.1 231.7L247.5 229.3L249.9 226.9L252.2 224.6L254.6 222.2L256.9 219.8L259.2 217.4L261.5 215.0L263.9 212.6L266.2 210.1L268.6 207.6L270.9 205.0L273.3 202.4L275.7 199.7L278.1 197.0L280.4 194.2L282.8 191.2L285.2 188.2L287.5 185.1L289.7 181.9L291.9 178.5L293.9 175.0L295.8 171.4L297.6 167.7L299.2 163.9L300.6 160.0Z" fill="#391cff"/>
<path d="M299.7 156.0L298.9 152.1L297.5 148.2L295.9 144.4L294.1 140.8L292.2 137.3L290.2 133.9L288.0 130.6L285.7 127.4L283.5 124.3L281.1 121.4L278.8 118.5L276.4 115.7L274.1 113.0L271.7 110.4L269.4 107.9L267.1 105.3L264.7 102.9L262.4 100.5L259.9 98.2L257.5 96.0L255.1 93.8L252.8 91.5L250.5 89.2L248.2 86.9L246.0 84.5L243.8 82.0L241.6 79.5L239.3 77.0L236.9 74.6L234.4 72.2L231.8 69.8L229.2 67.4L226.5 65.0L223.7 62.6L220.9 60.2L217.9 57.9L214.8 55.5L211.6 53.3L208.3 51.1L204.9 49.1L201.3 47.2L197.6 45.4L193.8 43.9L190.0 42.6L186.0 41.8L182.0 42.5L178.1 43.7L174.3 45.2L170.7 46.8L167.1 48.6L163.6 50.5L160.2 52.5L156.9 54.6L153.7 56.7L150.7 58.9L147.7 61.2L144.8 63.5L142.0 65.8L139.2 68.1L136.6 70.4L134.0 72.7L131.4 75.1L128.9 77.5L126.5 79.8L124.1 82.2L121.7 84.6L119.4 87.0L117.0 89.4L114.7 91.8L112.5 94.3L110.2 96.8L108.0 99.3L105.7 101.9L103.5 104.5L101.3 107.1L99.1 109.8L96.9 112.5L94.7 115.3L92.5 118.2L90.3 121.2L88.2 124.2L86.1 127.3L84.0 130.6L82.0 133.9L80.1 137.3L78.2 140.9L76.5 144.5L75.0 148.2L73.7 152.1L72.8 156.0L73.7 159.9L75.0 163.8L76.5 167.5L78.2 171.1L80.1 174.7L82.0 178.1L84.0 181.4L86.1 184.7L88.2 187.8L90.3 190.8L92.5 193.8L94.7 196.7L96.9 199.5L99.1 202.2L101.3 204.9L103.5 207.5L105.7 210.1L108.0 212.7L110.2 215.2L112.5 217.7L114.7 220.2L117.0 222.6L119.4 225.0L121.7 227.4L124.1 229.8L126.5 232.2L128.9 234.5L131.4 236.9L134.0 239.3L136.6 241.6L139.2 243.9L142.0 246.2L144.8 248.5L147.7 250.8L150.7 253.1L153.7 255.3L156.9 257.4L160.2 259.5L163.6 261.5L167.1 263.4L170.7 265.2L174.3 266.8L178.1 268.3L182.0 269.5L186.0 270.2L190.0 269.4L193.8 268.1L197.6 266.6L201.3 264.8L204.9 262.9L208.3 260.9L211.6 258.7L214.8 256.5L217.9 254.1L220.9 251.8L223.7 249.4L226.5 247.0L229.2 244.6L231.8 242.2L234.4 239.8L236.9 237.4L239.3 235.0L241.6 232.5L243.8 230.0L246.0 227.5L248.2 225.1L250.5 222.8L252.8 220.5L255.1 218.2L257.5 216.0L259.9 213.8L262.4 211.5L264.7 209.1L267.1 206.7L269.4 204.1L271.7 201.6L274.1 199.0L276.4 196.3L278.8 193.5L281.1 190.6L283.5 187.7L285.7 184.6L288.0 181.4L290.2 178.1L292.2 174.7L294.1 171.2L295.9 167.6L297.5 163.8L298.9 159.9Z" fill="#3124ff"/>
<path d="M298.1 156.0L297.2 152.1L295.9 148.3L294.3 144.6L292.5 141.0L290.5 137.6L288.4 134.2L286.3 131.0L284.0 127.9L281.8 124.9L279.4 122.0L277.1 119.2L274.8 116.5L272.5 113.8L270.2 111.3L267.9 108.7L265.3 106.4L262.7 104.2L260.2 102.1L257.8 99.9L255.4 97.8L253.0 95.6L250.8 93.4L248.6 91.2L246.4 88.9L244.2 86.6L242.1 84.2L240.0 81.7L237.9 79.1L235.7 76.5L233.4 73.8L231.0 71.4L228.4 69.0L225.8 66.6L223.1 64.2L220.3 61.8L217.4 59.5L214.3 57.2L211.2 54.9L207.9 52.8L204.6 50.7L201.1 48.7L197.5 47.0L193.7 45.4L189.9 44.1L186.0 43.3L182.1 44.1L178.3 45.3L174.5 46.7L170.9 48.3L167.3 50.1L163.9 52.0L160.6 54.0L157.4 56.1L154.2 58.3L151.2 60.4L148.3 62.7L145.5 64.9L142.7 67.2L140.0 69.5L137.4 71.8L134.8 74.1L132.3 76.4L129.9 78.8L127.5 81.1L125.1 83.4L122.8 85.8L120.5 88.1L118.2 90.5L115.9 92.9L113.7 95.3L111.5 97.8L109.3 100.3L107.1 102.8L104.9 105.3L102.7 107.9L100.6 110.6L98.4 113.3L96.2 116.0L94.1 118.9L92.0 121.8L89.8 124.8L87.8 127.8L85.7 131.0L83.7 134.3L81.8 137.6L80.0 141.1L78.3 144.7L76.7 148.4L75.5 152.1L74.6 156.0L75.5 159.9L76.7 163.6L78.3 167.3L80.0 170.9L81.8 174.4L83.7 177.7L85.7 181.0L87.8 184.2L89.8 187.2L92.0 190.2L94.1 193.1L96.2 196.0L98.4 198.7L100.6 201.4L102.7 204.1L104.9 206.7L107.1 209.2L109.3 211.7L111.5 214.2L113.7 216.7L115.9 219.1L118.2 221.5L120.5 223.9L122.8 226.2L125.1 228.6L127.5 230.9L129.9 233.2L132.3 235.6L134.8 237.9L137.4 240.2L140.0 242.5L142.7 244.8L145.5 247.1L148.3 249.3L151.2 251.6L154.2 253.7L157.4 255.9L160.6 258.0L163.9 260.0L167.3 261.9L170.9 263.7L174.5 265.3L178.3 266.7L182.1 267.9L186.0 268.7L189.9 267.9L193.7 266.6L197.5 265.0L201.1 263.3L204.6 261.3L207.9 259.2L211.2 257.1L214.3 254.8L217.4 252.5L220.3 250.2L223.1 247.8L225.8 245.4L228.4 243.0L231.0 240.6L233.4 238.2L235.7 235.5L237.9 232.9L240.0 230.3L242.1 227.8L244.2 225.4L246.4 223.1L248.6 220.8L250.8 218.6L253.0 216.4L255.4 214.2L257.8 212.1L260.2 209.9L262.7 207.8L265.3 205.6L267.9 203.3L270.2 200.7L272.5 198.2L274.8 195.5L277.1 192.8L279.4 190.0L281.8 187.1L284.0 184.1L286.3 181.0L288.4 177.8L290.5 174.4L292.5 171.0L294.3 167.4L295.9 163.7L297.2 159.9Z" fill="#282eff"/>
<path d="M296.4 156.0L295.5 152.2L294.2 148.4L292.6 144.8L290.8 141.3L288.8 137.9L286.7 134.6L284.5 131.4L282.3 128.4L280.1 125.4L277.8 122.6L275.5 119.8L273.2 117.2L270.9 114.6L268.3 112.3L265.6 110.0L263.0 107.9L260.5 105.8L258.0 103.7L255.6 101.6L253.2 99.6L250.9 97.5L248.7 95.4L246.6 93.3L244.5 91.0L242.4 88.7L240.4 86.4L238.4 83.9L236.3 81.4L234.3 78.8L232.1 76.1L229.9 73.4L227.6 70.7L225.1 68.2L222.4 65.8L219.7 63.5L216.8 61.1L213.9 58.8L210.8 56.6L207.6 54.4L204.3 52.3L200.8 50.4L197.3 48.6L193.6 47.0L189.9 45.7L186.0 44.9L182.1 45.6L178.4 46.8L174.7 48.3L171.1 49.9L167.6 51.7L164.2 53.6L161.0 55.6L157.8 57.7L154.7 59.8L151.8 62.0L148.9 64.2L146.1 66.4L143.4 68.6L140.8 70.9L138.2 73.2L135.7 75.5L133.3 77.8L130.9 80.2L128.6 82.5L126.3 84.9L124.1 87.2L121.8 89.6L119.6 91.9L117.4 94.2L115.1 96.5L112.9 98.9L110.7 101.3L108.5 103.7L106.3 106.2L104.2 108.8L102.0 111.4L99.9 114.0L97.8 116.7L95.7 119.5L93.6 122.4L91.5 125.3L89.4 128.3L87.4 131.4L85.4 134.6L83.5 137.9L81.7 141.3L80.0 144.9L78.5 148.5L77.2 152.2L76.4 156.0L77.2 159.8L78.5 163.5L80.0 167.1L81.7 170.7L83.5 174.1L85.4 177.4L87.4 180.6L89.4 183.7L91.5 186.7L93.6 189.6L95.7 192.5L97.8 195.3L99.9 198.0L102.0 200.6L104.2 203.2L106.3 205.8L108.5 208.3L110.7 210.7L112.9 213.1L115.1 215.5L117.4 217.8L119.6 220.1L121.8 222.4L124.1 224.8L126.3 227.1L128.6 229.5L130.9 231.8L133.3 234.2L135.7 236.5L138.2 238.8L140.8 241.1L143.4 243.4L146.1 245.6L148.9 247.8L151.8 250.0L154.7 252.2L157.8 254.3L161.0 256.4L164.2 258.4L167.6 260.3L171.1 262.1L174.7 263.7L178.4 265.2L182.1 266.4L186.0 267.1L189.9 266.3L193.6 265.0L197.3 263.4L200.8 261.6L204.3 259.7L207.6 257.6L210.8 255.4L213.9 253.2L216.8 250.9L219.7 248.5L222.4 246.2L225.1 243.8L227.6 241.3L229.9 238.6L232.1 235.9L234.3 233.2L236.3 230.6L238.4 228.1L240.4 225.6L242.4 223.3L244.5 221.0L246.6 218.7L248.7 216.6L250.9 214.5L253.2 212.4L255.6 210.4L258.0 208.3L260.5 206.2L263.0 204.1L265.6 202.0L268.3 199.7L270.9 197.4L273.2 194.8L275.5 192.2L277.8 189.4L280.1 186.6L282.3 183.6L284.5 180.6L286.7 177.4L288.8 174.1L290.8 170.7L292.6 167.2L294.2 163.6L295.5 159.8Z" fill="#1f3bff"/>
<path d="M294.7 156.0L293.8 152.2L292.5 148.6L290.8 145.0L289.0 141.5L287.0 138.2L285.0 135.0L282.8 131.9L280.6 128.9L278.4 126.0L276.1 123.2L273.8 120.5L271.3 118.0L268.7 115.7L266.0 113.5L263.4 111.3L260.8 109.3L258.2 107.3L256.0 105.1L254.0 102.9L252.0 100.6L249.9 98.4L247.9 96.3L245.8 94.1L243.7 92.0L241.5 89.9L239.3 87.8L237.1 85.7L234.8 83.6L232.8 81.1L230.8 78.4L228.7 75.7L226.5 72.9L224.2 70.2L221.8 67.5L219.1 65.1L216.3 62.8L213.4 60.5L210.4 58.3L207.2 56.1L204.0 54.0L200.6 52.0L197.1 50.2L193.5 48.6L189.8 47.3L186.0 46.4L182.2 47.2L178.5 48.4L174.8 49.8L171.3 51.5L167.9 53.3L164.6 55.2L161.4 57.1L158.2 59.2L155.2 61.3L152.3 63.5L149.5 65.7L146.8 67.9L144.1 70.1L141.5 72.4L139.1 74.7L136.7 77.1L134.4 79.5L132.1 81.8L129.9 84.2L127.7 86.5L125.5 88.8L123.3 91.1L121.1 93.3L118.9 95.6L116.7 97.9L114.5 100.2L112.3 102.5L110.1 104.8L107.9 107.2L105.6 109.6L103.5 112.1L101.4 114.7L99.3 117.4L97.2 120.1L95.2 122.9L93.1 125.8L91.1 128.8L89.1 131.8L87.2 135.0L85.3 138.2L83.5 141.6L81.8 145.0L80.3 148.6L79.0 152.3L78.2 156.0L79.0 159.7L80.3 163.4L81.8 167.0L83.5 170.4L85.3 173.8L87.2 177.0L89.1 180.2L91.1 183.2L93.1 186.2L95.2 189.1L97.2 191.9L99.3 194.6L101.4 197.3L103.5 199.9L105.6 202.4L107.9 204.8L110.1 207.2L112.3 209.5L114.5 211.8L116.7 214.1L118.9 216.4L121.1 218.7L123.3 220.9L125.5 223.2L127.7 225.5L129.9 227.8L132.1 230.2L134.4 232.5L136.7 234.9L139.1 237.3L141.5 239.6L144.1 241.9L146.8 244.1L149.5 246.3L152.3 248.5L155.2 250.7L158.2 252.8L161.4 254.9L164.6 256.8L167.9 258.7L171.3 260.5L174.8 262.2L178.5 263.6L182.2 264.8L186.0 265.6L189.8 264.7L193.5 263.4L197.1 261.8L200.6 260.0L204.0 258.0L207.2 255.9L210.4 253.7L213.4 251.5L216.3 249.2L219.1 246.9L221.8 244.5L224.2 241.8L226.5 239.1L228.7 236.3L230.8 233.6L232.8 230.9L234.8 228.4L237.1 226.3L239.3 224.2L241.5 222.1L243.7 220.0L245.8 217.9L247.9 215.7L249.9 213.6L252.0 211.4L254.0 209.1L256.0 206.9L258.2 204.7L260.8 202.7L263.4 200.7L266.0 198.5L268.7 196.3L271.3 194.0L273.8 191.5L276.1 188.8L278.4 186.0L280.6 183.1L282.8 180.1L285.0 177.0L287.0 173.8L289.0 170.5L290.8 167.0L292.5 163.4L293.8 159.8Z" fill="#1648ff"/>
<path d="M293.1 156.0L292.2 152.3L290.8 148.7L289.2 145.2L287.4 141.8L285.4 138.5L283.3 135.3L281.2 132.3L279.0 129.3L276.7 126.5L274.5 123.8L271.9 121.3L269.2 119.0L266.5 116.7L263.8 114.6L261.1 112.6L259.1 110.3L257.1 108.0L255.1 105.8L253.1 103.6L251.1 101.4L249.1 99.2L247.1 97.0L245.0 94.9L242.9 92.8L240.8 90.7L238.7 88.6L236.5 86.5L234.3 84.5L232.0 82.4L229.7 80.4L227.5 77.9L225.4 75.2L223.2 72.4L220.9 69.6L218.5 66.8L215.8 64.4L212.9 62.1L210.0 59.8L206.9 57.7L203.7 55.6L200.4 53.6L197.0 51.8L193.4 50.1L189.7 48.8L186.0 47.9L182.3 48.7L178.6 49.9L175.0 51.3L171.5 53.0L168.2 54.8L164.9 56.7L161.7 58.6L158.7 60.7L155.7 62.8L152.8 64.9L150.1 67.1L147.4 69.3L144.9 71.7L142.4 74.1L140.1 76.4L137.7 78.8L135.5 81.1L133.3 83.4L131.1 85.7L128.9 88.0L126.8 90.2L124.6 92.5L122.5 94.7L120.4 96.9L118.2 99.1L116.1 101.4L113.9 103.6L111.7 105.9L109.5 108.2L107.3 110.6L105.1 113.0L102.9 115.5L100.8 118.1L98.7 120.7L96.7 123.5L94.7 126.3L92.7 129.2L90.7 132.2L88.8 135.3L86.9 138.5L85.2 141.8L83.5 145.2L82.0 148.7L80.7 152.3L79.9 156.0L80.7 159.7L82.0 163.3L83.5 166.8L85.2 170.2L86.9 173.5L88.8 176.7L90.7 179.8L92.7 182.8L94.7 185.7L96.7 188.5L98.7 191.3L100.8 193.9L102.9 196.5L105.1 199.0L107.3 201.4L109.5 203.8L111.7 206.1L113.9 208.4L116.1 210.6L118.2 212.9L120.4 215.1L122.5 217.3L124.6 219.5L126.8 221.8L128.9 224.0L131.1 226.3L133.3 228.6L135.5 230.9L137.7 233.2L140.1 235.6L142.4 237.9L144.9 240.3L147.4 242.7L150.1 244.9L152.8 247.1L155.7 249.2L158.7 251.3L161.7 253.4L164.9 255.3L168.2 257.2L171.5 259.0L175.0 260.7L178.6 262.1L182.3 263.3L186.0 264.1L189.7 263.2L193.4 261.9L197.0 260.2L200.4 258.4L203.7 256.4L206.9 254.3L210.0 252.2L212.9 249.9L215.8 247.6L218.5 245.2L220.9 242.4L223.2 239.6L225.4 236.8L227.5 234.1L229.7 231.6L232.0 229.6L234.3 227.5L236.5 225.5L238.7 223.4L240.8 221.3L242.9 219.2L245.0 217.1L247.1 215.0L249.1 212.8L251.1 210.6L253.1 208.4L255.1 206.2L257.1 204.0L259.1 201.7L261.1 199.4L263.8 197.4L266.5 195.3L269.2 193.0L271.9 190.7L274.5 188.2L276.7 185.5L279.0 182.7L281.2 179.7L283.3 176.7L285.4 173.5L287.4 170.2L289.2 166.8L290.8 163.3L292.2 159.7Z" fill="#1155ff"/>
<path d="M291.6 156.0L290.7 152.3L289.3 148.8L287.6 145.3L285.8 142.0L283.8 138.8L281.7 135.6L279.6 132.7L277.4 129.8L275.1 127.0L272.5 124.5L269.8 122.1L267.1 119.9L264.4 117.8L262.0 115.6L260.1 113.2L258.2 110.9L256.2 108.6L254.3 106.4L252.3 104.2L250.3 102.0L248.3 99.9L246.3 97.8L244.3 95.7L242.2 93.6L240.1 91.5L238.0 89.4L235.8 87.4L233.7 85.3L231.4 83.3L229.1 81.3L226.8 79.3L224.4 77.3L222.3 74.5L220.1 71.6L217.7 68.8L215.2 66.1L212.5 63.6L209.6 61.4L206.6 59.2L203.4 57.1L200.2 55.1L196.8 53.3L193.3 51.6L189.7 50.2L186.0 49.3L182.3 50.1L178.7 51.3L175.2 52.8L171.7 54.4L168.4 56.2L165.2 58.1L162.1 60.1L159.1 62.1L156.2 64.2L153.3 66.3L150.7 68.6L148.1 70.9L145.7 73.3L143.3 75.7L141.0 78.0L138.7 80.3L136.5 82.6L134.4 84.9L132.2 87.2L130.1 89.4L128.0 91.6L125.9 93.8L123.9 96.0L121.8 98.2L119.7 100.3L117.5 102.5L115.4 104.7L113.3 106.9L111.1 109.2L108.9 111.5L106.7 113.9L104.5 116.3L102.3 118.8L100.2 121.3L98.1 124.0L96.2 126.8L94.2 129.7L92.3 132.6L90.4 135.7L88.5 138.8L86.8 142.1L85.1 145.4L83.6 148.8L82.4 152.4L81.6 156.0L82.4 159.6L83.6 163.2L85.1 166.6L86.8 169.9L88.5 173.2L90.4 176.3L92.3 179.4L94.2 182.3L96.2 185.2L98.1 188.0L100.2 190.7L102.3 193.2L104.5 195.7L106.7 198.1L108.9 200.5L111.1 202.8L113.3 205.1L115.4 207.3L117.5 209.5L119.7 211.7L121.8 213.8L123.9 216.0L125.9 218.2L128.0 220.4L130.1 222.6L132.2 224.8L134.4 227.1L136.5 229.4L138.7 231.7L141.0 234.0L143.3 236.3L145.7 238.7L148.1 241.1L150.7 243.4L153.3 245.7L156.2 247.8L159.1 249.9L162.1 251.9L165.2 253.9L168.4 255.8L171.7 257.6L175.2 259.2L178.7 260.7L182.3 261.9L186.0 262.7L189.7 261.8L193.3 260.4L196.8 258.7L200.2 256.9L203.4 254.9L206.6 252.8L209.6 250.6L212.5 248.4L215.2 245.9L217.7 243.2L220.1 240.4L222.3 237.5L224.4 234.7L226.8 232.7L229.1 230.7L231.4 228.7L233.7 226.7L235.8 224.6L238.0 222.6L240.1 220.5L242.2 218.4L244.3 216.3L246.3 214.2L248.3 212.1L250.3 210.0L252.3 207.8L254.3 205.6L256.2 203.4L258.2 201.1L260.1 198.8L262.0 196.4L264.4 194.2L267.1 192.1L269.8 189.9L272.5 187.5L275.1 185.0L277.4 182.2L279.6 179.3L281.7 176.4L283.8 173.2L285.8 170.0L287.6 166.7L289.3 163.2L290.7 159.7Z" fill="#0c62ff"/>
<path d="M290.1 156.0L289.1 152.4L287.7 148.9L286.1 145.5L284.2 142.2L282.2 139.0L280.2 136.0L278.0 133.1L275.7 130.3L273.1 127.7L270.4 125.3L267.7 123.0L265.0 120.8L263.0 118.4L261.1 116.1L259.2 113.8L257.2 111.5L255.3 109.2L253.4 107.0L251.4 104.9L249.5 102.7L247.5 100.6L245.5 98.5L243.5 96.4L241.5 94.4L239.4 92.3L237.3 90.3L235.2 88.3L233.1 86.2L230.8 84.2L228.6 82.2L226.3 80.2L223.9 78.2L221.5 76.2L219.2 73.8L217.0 70.9L214.6 68.1L212.0 65.4L209.2 62.9L206.3 60.7L203.2 58.6L200.0 56.6L196.6 54.8L193.2 53.1L189.6 51.7L186.0 50.8L182.4 51.6L178.8 52.8L175.3 54.2L171.9 55.9L168.7 57.7L165.5 59.5L162.4 61.5L159.5 63.5L156.6 65.6L153.9 67.9L151.3 70.2L148.9 72.6L146.5 74.9L144.1 77.3L141.9 79.6L139.7 81.9L137.5 84.1L135.2 86.1L133.0 88.2L130.9 90.3L128.7 92.4L126.7 94.6L124.7 96.8L122.7 99.0L120.7 101.2L118.8 103.5L116.9 105.8L114.8 108.0L112.7 110.2L110.5 112.4L108.4 114.7L106.2 117.1L104.0 119.5L101.9 122.0L99.7 124.6L97.6 127.3L95.7 130.1L93.8 133.0L91.9 136.0L90.1 139.1L88.4 142.3L86.7 145.6L85.3 149.0L84.0 152.4L83.2 156.0L84.0 159.6L85.3 163.0L86.7 166.4L88.4 169.7L90.1 172.9L91.9 176.0L93.8 179.0L95.7 181.9L97.6 184.7L99.7 187.4L101.9 190.0L104.0 192.5L106.2 194.9L108.4 197.3L110.5 199.6L112.7 201.8L114.8 204.0L116.9 206.2L118.8 208.5L120.7 210.8L122.7 213.0L124.7 215.2L126.7 217.4L128.7 219.6L130.9 221.7L133.0 223.8L135.2 225.9L137.5 227.9L139.7 230.1L141.9 232.4L144.1 234.7L146.5 237.1L148.9 239.4L151.3 241.8L153.9 244.1L156.6 246.4L159.5 248.5L162.4 250.5L165.5 252.5L168.7 254.3L171.9 256.1L175.3 257.8L178.8 259.2L182.4 260.4L186.0 261.2L189.6 260.3L193.2 258.9L196.6 257.2L200.0 255.4L203.2 253.4L206.3 251.3L209.2 249.1L212.0 246.6L214.6 243.9L217.0 241.1L219.2 238.2L221.5 235.8L223.9 233.8L226.3 231.8L228.6 229.8L230.8 227.8L233.1 225.8L235.2 223.7L237.3 221.7L239.4 219.7L241.5 217.6L243.5 215.6L245.5 213.5L247.5 211.4L249.5 209.3L251.4 207.1L253.4 205.0L255.3 202.8L257.2 200.5L259.2 198.2L261.1 195.9L263.0 193.6L265.0 191.2L267.7 189.0L270.4 186.7L273.1 184.3L275.7 181.7L278.0 178.9L280.2 176.0L282.2 173.0L284.2 169.8L286.1 166.5L287.7 163.1L289.1 159.6Z" fill="#096fff"/>
<path d="M288.6 156.0L287.6 152.5L286.2 149.0L284.5 145.6L282.6 142.4L280.7 139.3L278.6 136.3L276.3 133.5L273.7 130.8L271.1 128.4L268.4 126.0L265.8 123.8L263.9 121.3L262.0 118.9L260.1 116.6L258.2 114.3L256.3 112.1L254.4 109.9L252.5 107.7L250.6 105.5L248.7 103.4L246.7 101.3L244.8 99.3L242.8 97.2L240.8 95.2L238.7 93.1L236.7 91.1L234.6 89.1L232.4 87.1L230.3 85.2L228.1 83.2L225.8 81.2L223.5 79.2L221.1 77.2L218.6 75.2L216.2 73.0L213.9 70.1L211.4 67.3L208.8 64.7L205.9 62.2L202.9 60.1L199.8 58.1L196.5 56.3L193.1 54.6L189.6 53.2L186.0 52.2L182.4 53.0L178.9 54.2L175.5 55.7L172.1 57.3L168.9 59.1L165.8 61.0L162.8 62.9L159.9 65.0L157.2 67.3L154.5 69.6L152.0 71.9L149.6 74.2L147.3 76.6L145.0 78.9L142.6 80.9L140.3 82.8L138.0 84.8L135.7 86.8L133.6 88.9L131.4 90.9L129.3 93.1L127.3 95.2L125.3 97.4L123.3 99.5L121.4 101.8L119.5 104.0L117.6 106.3L115.8 108.7L114.1 111.0L112.1 113.4L110.0 115.6L107.9 117.9L105.7 120.3L103.6 122.7L101.4 125.2L99.3 127.8L97.2 130.5L95.3 133.4L93.5 136.3L91.7 139.4L90.0 142.5L88.3 145.7L86.9 149.1L85.6 152.5L84.8 156.0L85.6 159.5L86.9 162.9L88.3 166.3L90.0 169.5L91.7 172.6L93.5 175.7L95.3 178.6L97.2 181.5L99.3 184.2L101.4 186.8L103.6 189.3L105.7 191.7L107.9 194.1L110.0 196.4L112.1 198.6L114.1 201.0L115.8 203.3L117.6 205.7L119.5 208.0L121.4 210.2L123.3 212.5L125.3 214.6L127.3 216.8L129.3 218.9L131.4 221.1L133.6 223.1L135.7 225.2L138.0 227.2L140.3 229.2L142.6 231.1L145.0 233.1L147.3 235.4L149.6 237.8L152.0 240.1L154.5 242.4L157.2 244.7L159.9 247.0L162.8 249.1L165.8 251.0L168.9 252.9L172.1 254.7L175.5 256.3L178.9 257.8L182.4 259.0L186.0 259.8L189.6 258.8L193.1 257.4L196.5 255.7L199.8 253.9L202.9 251.9L205.9 249.8L208.8 247.3L211.4 244.7L213.9 241.9L216.2 239.0L218.6 236.8L221.1 234.8L223.5 232.8L225.8 230.8L228.1 228.8L230.3 226.8L232.4 224.9L234.6 222.9L236.7 220.9L238.7 218.9L240.8 216.8L242.8 214.8L244.8 212.7L246.7 210.7L248.7 208.6L250.6 206.5L252.5 204.3L254.4 202.1L256.3 199.9L258.2 197.7L260.1 195.4L262.0 193.1L263.9 190.7L265.8 188.2L268.4 186.0L271.1 183.6L273.7 181.2L276.3 178.5L278.6 175.7L280.7 172.7L282.6 169.6L284.5 166.4L286.2 163.0L287.6 159.5Z" fill="#077bff"/>
<path d="M287.0 156.0L286.1 152.5L284.6 149.1L282.9 145.8L281.1 142.6L279.1 139.6L276.8 136.7L274.3 134.0L271.7 131.4L269.0 129.0L266.6 126.6L264.7 124.2L262.9 121.8L261.0 119.4L259.1 117.1L257.3 114.9L255.4 112.6L253.5 110.5L251.6 108.3L249.7 106.2L247.8 104.1L245.9 102.0L244.0 100.0L242.0 98.0L240.1 96.0L238.0 94.0L236.0 92.0L233.9 90.0L231.8 88.1L229.7 86.1L227.5 84.1L225.3 82.2L223.0 80.2L220.6 78.2L218.2 76.2L215.7 74.3L213.2 72.2L210.8 69.3L208.3 66.6L205.6 64.0L202.6 61.6L199.5 59.6L196.3 57.8L193.0 56.1L189.5 54.6L186.0 53.6L182.5 54.4L179.0 55.7L175.6 57.1L172.3 58.8L169.2 60.5L166.1 62.4L163.2 64.5L160.4 66.7L157.7 68.9L155.1 71.2L152.7 73.5L150.3 75.9L147.9 77.9L145.4 79.7L143.1 81.6L140.7 83.6L138.5 85.5L136.3 87.5L134.1 89.6L132.0 91.6L129.9 93.7L127.9 95.8L125.9 98.0L123.9 100.1L122.0 102.3L120.2 104.6L118.4 106.9L116.6 109.2L114.8 111.5L113.1 113.9L111.4 116.3L109.5 118.7L107.4 121.0L105.2 123.4L103.1 125.8L101.0 128.4L98.9 131.0L96.9 133.8L95.0 136.7L93.2 139.6L91.5 142.7L89.9 145.9L88.5 149.2L87.2 152.6L86.4 156.0L87.2 159.4L88.5 162.8L89.9 166.1L91.5 169.3L93.2 172.4L95.0 175.3L96.9 178.2L98.9 181.0L101.0 183.6L103.1 186.2L105.2 188.6L107.4 191.0L109.5 193.3L111.4 195.7L113.1 198.1L114.8 200.5L116.6 202.8L118.4 205.1L120.2 207.4L122.0 209.7L123.9 211.9L125.9 214.0L127.9 216.2L129.9 218.3L132.0 220.4L134.1 222.4L136.3 224.5L138.5 226.5L140.7 228.4L143.1 230.4L145.4 232.3L147.9 234.1L150.3 236.1L152.7 238.5L155.1 240.8L157.7 243.1L160.4 245.3L163.2 247.5L166.1 249.6L169.2 251.5L172.3 253.2L175.6 254.9L179.0 256.3L182.5 257.6L186.0 258.4L189.5 257.4L193.0 255.9L196.3 254.2L199.5 252.4L202.6 250.4L205.6 248.0L208.3 245.4L210.8 242.7L213.2 239.8L215.7 237.7L218.2 235.8L220.6 233.8L223.0 231.8L225.3 229.8L227.5 227.9L229.7 225.9L231.8 223.9L233.9 222.0L236.0 220.0L238.0 218.0L240.1 216.0L242.0 214.0L244.0 212.0L245.9 210.0L247.8 207.9L249.7 205.8L251.6 203.7L253.5 201.5L255.4 199.4L257.3 197.1L259.1 194.9L261.0 192.6L262.9 190.2L264.7 187.8L266.6 185.4L269.0 183.0L271.7 180.6L274.3 178.0L276.8 175.3L279.1 172.4L281.1 169.4L282.9 166.2L284.6 162.9L286.1 159.5Z" fill="#0587ff"/>
<path d="M285.5 156.0L284.5 152.6L283.0 149.2L281.3 146.0L279.5 142.9L277.3 139.9L274.9 137.1L272.4 134.5L269.7 132.0L267.4 129.5L265.5 127.0L263.7 124.6L261.8 122.2L260.0 119.9L258.1 117.6L256.3 115.4L254.5 113.2L252.6 111.1L250.8 109.0L248.9 106.9L247.0 104.8L245.1 102.8L243.2 100.7L241.3 98.8L239.3 96.8L237.3 94.8L235.3 92.9L233.3 90.9L231.2 89.0L229.1 87.0L226.9 85.1L224.7 83.2L222.5 81.2L220.2 79.3L217.8 77.3L215.4 75.3L212.8 73.4L210.3 71.4L207.8 68.6L205.2 65.9L202.3 63.4L199.3 61.2L196.2 59.3L192.9 57.6L189.5 56.1L186.0 55.1L182.5 55.9L179.1 57.1L175.8 58.6L172.5 60.2L169.4 62.0L166.4 64.0L163.6 66.1L160.9 68.3L158.2 70.6L155.7 72.9L153.3 75.0L150.8 76.8L148.3 78.7L145.9 80.5L143.5 82.4L141.2 84.3L139.0 86.3L136.8 88.3L134.6 90.3L132.5 92.3L130.5 94.4L128.5 96.4L126.5 98.6L124.6 100.7L122.7 102.9L120.9 105.1L119.1 107.4L117.3 109.7L115.6 112.0L113.9 114.3L112.2 116.7L110.5 119.2L108.9 121.7L106.9 124.1L104.8 126.5L102.7 128.9L100.6 131.5L98.6 134.2L96.6 137.0L94.8 139.9L93.1 142.9L91.5 146.1L90.1 149.3L88.9 152.6L88.1 156.0L88.9 159.4L90.1 162.7L91.5 165.9L93.1 169.1L94.8 172.1L96.6 175.0L98.6 177.8L100.6 180.5L102.7 183.1L104.8 185.5L106.9 187.9L108.9 190.3L110.5 192.8L112.2 195.3L113.9 197.7L115.6 200.0L117.3 202.3L119.1 204.6L120.9 206.9L122.7 209.1L124.6 211.3L126.5 213.4L128.5 215.6L130.5 217.6L132.5 219.7L134.6 221.7L136.8 223.7L139.0 225.7L141.2 227.7L143.5 229.6L145.9 231.5L148.3 233.3L150.8 235.2L153.3 237.0L155.7 239.1L158.2 241.4L160.9 243.7L163.6 245.9L166.4 248.0L169.4 250.0L172.5 251.8L175.8 253.4L179.1 254.9L182.5 256.1L186.0 256.9L189.5 255.9L192.9 254.4L196.2 252.7L199.3 250.8L202.3 248.6L205.2 246.1L207.8 243.4L210.3 240.6L212.8 238.6L215.4 236.7L217.8 234.7L220.2 232.7L222.5 230.8L224.7 228.8L226.9 226.9L229.1 225.0L231.2 223.0L233.3 221.1L235.3 219.1L237.3 217.2L239.3 215.2L241.3 213.2L243.2 211.3L245.1 209.2L247.0 207.2L248.9 205.1L250.8 203.0L252.6 200.9L254.5 198.8L256.3 196.6L258.1 194.4L260.0 192.1L261.8 189.8L263.7 187.4L265.5 185.0L267.4 182.5L269.7 180.0L272.4 177.5L274.9 174.9L277.3 172.1L279.5 169.1L281.3 166.0L283.0 162.8L284.5 159.4Z" fill="#0791fd"/>
<path d="M284.1 156.0L283.1 152.6L281.6 149.3L279.9 146.1L277.9 143.1L275.6 140.2L273.1 137.5L270.5 134.9L268.2 132.4L266.4 129.9L264.5 127.4L262.7 125.0L260.9 122.7L259.0 120.4L257.2 118.1L255.4 115.9L253.6 113.8L251.8 111.6L249.9 109.5L248.1 107.5L246.2 105.5L244.4 103.4L242.5 101.4L240.6 99.5L238.7 97.5L236.7 95.6L234.7 93.7L232.7 91.7L230.6 89.8L228.5 87.9L226.4 86.0L224.2 84.1L222.0 82.2L219.7 80.2L217.4 78.3L215.0 76.4L212.5 74.4L210.0 72.5L207.3 70.4L204.8 67.7L202.0 65.1L199.1 62.7L196.0 60.7L192.8 58.9L189.4 57.5L186.0 56.4L182.6 57.2L179.2 58.5L175.9 60.0L172.7 61.6L169.7 63.5L166.8 65.5L164.0 67.7L161.3 69.9L158.8 72.1L156.2 74.1L153.6 75.8L151.1 77.6L148.7 79.4L146.3 81.3L144.0 83.2L141.7 85.1L139.5 87.0L137.3 88.9L135.2 90.9L133.1 92.9L131.0 95.0L129.1 97.0L127.1 99.1L125.2 101.3L123.4 103.4L121.5 105.6L119.7 107.9L118.0 110.1L116.3 112.4L114.6 114.8L112.9 117.1L111.3 119.6L109.7 122.0L108.1 124.5L106.4 127.0L104.3 129.5L102.2 132.0L100.2 134.6L98.2 137.3L96.4 140.2L94.6 143.2L93.0 146.2L91.6 149.4L90.4 152.7L89.6 156.0L90.4 159.3L91.6 162.6L93.0 165.8L94.6 168.8L96.4 171.8L98.2 174.7L100.2 177.4L102.2 180.0L104.3 182.5L106.4 185.0L108.1 187.5L109.7 190.0L111.3 192.4L112.9 194.9L114.6 197.2L116.3 199.6L118.0 201.9L119.7 204.1L121.5 206.4L123.4 208.6L125.2 210.7L127.1 212.9L129.1 215.0L131.0 217.0L133.1 219.1L135.2 221.1L137.3 223.1L139.5 225.0L141.7 226.9L144.0 228.8L146.3 230.7L148.7 232.6L151.1 234.4L153.6 236.2L156.2 237.9L158.8 239.9L161.3 242.1L164.0 244.3L166.8 246.5L169.7 248.5L172.7 250.4L175.9 252.0L179.2 253.5L182.6 254.8L186.0 255.6L189.4 254.5L192.8 253.1L196.0 251.3L199.1 249.3L202.0 246.9L204.8 244.3L207.3 241.6L210.0 239.5L212.5 237.6L215.0 235.6L217.4 233.7L219.7 231.8L222.0 229.8L224.2 227.9L226.4 226.0L228.5 224.1L230.6 222.2L232.7 220.3L234.7 218.3L236.7 216.4L238.7 214.5L240.6 212.5L242.5 210.6L244.4 208.6L246.2 206.5L248.1 204.5L249.9 202.5L251.8 200.4L253.6 198.2L255.4 196.1L257.2 193.9L259.0 191.6L260.9 189.3L262.7 187.0L264.5 184.6L266.4 182.1L268.2 179.6L270.5 177.1L273.1 174.5L275.6 171.8L277.9 168.9L279.9 165.9L281.6 162.7L283.1 159.4Z" fill="#099bfb"/>
<path d="M282.7 156.0L281.6 152.7L280.1 149.4L278.3 146.3L276.2 143.3L273.8 140.5L271.3 137.9L269.0 135.3L267.2 132.7L265.3 130.2L263.5 127.8L261.7 125.4L259.9 123.1L258.1 120.8L256.3 118.6L254.5 116.5L252.7 114.3L250.9 112.2L249.1 110.2L247.3 108.1L245.5 106.1L243.6 104.1L241.8 102.2L239.9 100.2L238.0 98.3L236.0 96.4L234.1 94.5L232.1 92.6L230.1 90.7L228.0 88.8L225.9 86.9L223.7 85.0L221.5 83.1L219.3 81.2L217.0 79.3L214.6 77.4L212.2 75.5L209.7 73.5L207.0 71.6L204.4 69.5L201.7 66.8L198.9 64.4L195.9 62.2L192.7 60.3L189.4 58.8L186.0 57.8L182.6 58.6L179.3 59.8L176.1 61.3L172.9 63.1L170.0 65.0L167.1 67.0L164.4 69.2L161.7 71.4L159.1 73.2L156.5 74.9L153.9 76.7L151.5 78.4L149.1 80.2L146.7 82.1L144.4 83.9L142.1 85.8L139.9 87.7L137.8 89.6L135.7 91.6L133.6 93.6L131.6 95.6L129.6 97.6L127.7 99.7L125.8 101.8L124.0 104.0L122.2 106.1L120.4 108.4L118.7 110.6L117.0 112.9L115.3 115.2L113.7 117.6L112.1 119.9L110.5 122.4L108.9 124.9L107.4 127.4L105.9 130.0L103.8 132.4L101.8 135.0L99.8 137.7L98.0 140.5L96.2 143.4L94.5 146.4L93.1 149.5L91.9 152.7L91.1 156.0L91.9 159.3L93.1 162.5L94.5 165.6L96.2 168.6L98.0 171.5L99.8 174.3L101.8 177.0L103.8 179.6L105.9 182.0L107.4 184.6L108.9 187.1L110.5 189.6L112.1 192.1L113.7 194.4L115.3 196.8L117.0 199.1L118.7 201.4L120.4 203.6L122.2 205.9L124.0 208.0L125.8 210.2L127.7 212.3L129.6 214.4L131.6 216.4L133.6 218.4L135.7 220.4L137.8 222.4L139.9 224.3L142.1 226.2L144.4 228.1L146.7 229.9L149.1 231.8L151.5 233.6L153.9 235.3L156.5 237.1L159.1 238.8L161.7 240.6L164.4 242.8L167.1 245.0L170.0 247.0L172.9 248.9L176.1 250.7L179.3 252.2L182.6 253.4L186.0 254.2L189.4 253.2L192.7 251.7L195.9 249.8L198.9 247.6L201.7 245.2L204.4 242.5L207.0 240.4L209.7 238.5L212.2 236.5L214.6 234.6L217.0 232.7L219.3 230.8L221.5 228.9L223.7 227.0L225.9 225.1L228.0 223.2L230.1 221.3L232.1 219.4L234.1 217.5L236.0 215.6L238.0 213.7L239.9 211.8L241.8 209.8L243.6 207.9L245.5 205.9L247.3 203.9L249.1 201.8L250.9 199.8L252.7 197.7L254.5 195.5L256.3 193.4L258.1 191.2L259.9 188.9L261.7 186.6L263.5 184.2L265.3 181.8L267.2 179.3L269.0 176.7L271.3 174.1L273.8 171.5L276.2 168.7L278.3 165.7L280.1 162.6L281.6 159.3Z" fill="#0ba4f8"/>
<path d="M281.2 156.0L280.2 152.7L278.6 149.5L276.7 146.5L274.5 143.6L272.1 140.8L269.8 138.2L267.9 135.6L266.1 133.0L264.2 130.6L262.5 128.2L260.7 125.8L258.9 123.5L257.1 121.3L255.4 119.1L253.6 117.0L251.8 114.9L250.1 112.8L248.3 110.8L246.5 108.7L244.7 106.8L242.9 104.8L241.0 102.9L239.2 100.9L237.3 99.0L235.4 97.1L233.4 95.3L231.5 93.4L229.5 91.5L227.4 89.7L225.4 87.8L223.2 86.0L221.1 84.1L218.8 82.2L216.6 80.3L214.2 78.4L211.8 76.5L209.3 74.6L206.8 72.6L204.1 70.7L201.4 68.5L198.6 66.0L195.7 63.8L192.6 61.8L189.3 60.2L186.0 59.1L182.6 60.0L179.4 61.2L176.2 62.8L173.1 64.6L170.2 66.5L167.4 68.6L164.7 70.7L162.0 72.4L159.4 74.1L156.8 75.8L154.3 77.5L151.8 79.3L149.4 81.1L147.1 82.9L144.8 84.7L142.6 86.5L140.4 88.4L138.3 90.3L136.2 92.3L134.2 94.2L132.2 96.2L130.2 98.3L128.3 100.3L126.5 102.4L124.6 104.5L122.9 106.7L121.1 108.9L119.4 111.1L117.7 113.3L116.1 115.6L114.5 118.0L112.9 120.3L111.3 122.7L109.8 125.2L108.3 127.7L106.8 130.3L105.3 132.8L103.4 135.4L101.4 138.0L99.5 140.8L97.7 143.6L96.1 146.5L94.6 149.6L93.4 152.8L92.5 156.0L93.4 159.2L94.6 162.4L96.1 165.5L97.7 168.4L99.5 171.2L101.4 174.0L103.4 176.6L105.3 179.2L106.8 181.7L108.3 184.3L109.8 186.8L111.3 189.3L112.9 191.7L114.5 194.0L116.1 196.4L117.7 198.7L119.4 200.9L121.1 203.1L122.9 205.3L124.6 207.5L126.5 209.6L128.3 211.7L130.2 213.7L132.2 215.8L134.2 217.8L136.2 219.7L138.3 221.7L140.4 223.6L142.6 225.5L144.8 227.3L147.1 229.1L149.4 230.9L151.8 232.7L154.3 234.5L156.8 236.2L159.4 237.9L162.0 239.6L164.7 241.3L167.4 243.4L170.2 245.5L173.1 247.4L176.2 249.2L179.4 250.8L182.6 252.0L186.0 252.9L189.3 251.8L192.6 250.2L195.7 248.2L198.6 246.0L201.4 243.5L204.1 241.3L206.8 239.4L209.3 237.4L211.8 235.5L214.2 233.6L216.6 231.7L218.8 229.8L221.1 227.9L223.2 226.0L225.4 224.2L227.4 222.3L229.5 220.5L231.5 218.6L233.4 216.7L235.4 214.9L237.3 213.0L239.2 211.1L241.0 209.1L242.9 207.2L244.7 205.2L246.5 203.3L248.3 201.2L250.1 199.2L251.8 197.1L253.6 195.0L255.4 192.9L257.1 190.7L258.9 188.5L260.7 186.2L262.5 183.8L264.2 181.4L266.1 179.0L267.9 176.4L269.8 173.8L272.1 171.2L274.5 168.4L276.7 165.5L278.6 162.5L280.2 159.3Z" fill="#0dacf4"/>
<path d="M279.8 156.0L278.7 152.8L277.0 149.6L275.0 146.6L272.8 143.8L270.5 141.1L268.6 138.4L266.8 135.9L265.0 133.4L263.2 130.9L261.4 128.6L259.7 126.2L257.9 124.0L256.2 121.8L254.4 119.6L252.7 117.5L250.9 115.4L249.2 113.4L247.4 111.4L245.7 109.4L243.9 107.4L242.1 105.5L240.3 103.6L238.5 101.7L236.6 99.8L234.7 97.9L232.8 96.1L230.9 94.2L228.9 92.4L226.9 90.6L224.8 88.7L222.7 86.9L220.6 85.1L218.4 83.2L216.2 81.4L213.8 79.5L211.5 77.6L209.0 75.7L206.5 73.8L203.9 71.8L201.2 70.0L198.4 67.7L195.5 65.4L192.5 63.3L189.3 61.6L186.0 60.5L182.7 61.3L179.5 62.7L176.4 64.2L173.4 66.0L170.5 68.0L167.7 70.1L165.0 71.7L162.3 73.3L159.7 75.0L157.1 76.7L154.6 78.4L152.2 80.1L149.8 81.9L147.5 83.7L145.3 85.5L143.1 87.3L140.9 89.2L138.8 91.0L136.7 93.0L134.7 94.9L132.8 96.9L130.8 98.9L129.0 100.9L127.1 103.0L125.3 105.1L123.5 107.2L121.8 109.4L120.1 111.6L118.5 113.8L116.8 116.1L115.3 118.4L113.7 120.7L112.1 123.1L110.6 125.5L109.1 128.0L107.7 130.5L106.2 133.1L104.7 135.7L103.0 138.4L101.1 141.0L99.3 143.8L97.7 146.7L96.1 149.7L94.9 152.8L94.0 156.0L94.9 159.2L96.1 162.3L97.7 165.3L99.3 168.2L101.1 171.0L103.0 173.6L104.7 176.3L106.2 178.9L107.7 181.5L109.1 184.0L110.6 186.5L112.1 188.9L113.7 191.3L115.3 193.6L116.8 195.9L118.5 198.2L120.1 200.4L121.8 202.6L123.5 204.8L125.3 206.9L127.1 209.0L129.0 211.1L130.8 213.1L132.8 215.1L134.7 217.1L136.7 219.0L138.8 221.0L140.9 222.8L143.1 224.7L145.3 226.5L147.5 228.3L149.8 230.1L152.2 231.9L154.6 233.6L157.1 235.3L159.7 237.0L162.3 238.7L165.0 240.3L167.7 241.9L170.5 244.0L173.4 246.0L176.4 247.8L179.5 249.3L182.7 250.7L186.0 251.5L189.3 250.4L192.5 248.7L195.5 246.6L198.4 244.3L201.2 242.0L203.9 240.2L206.5 238.2L209.0 236.3L211.5 234.4L213.8 232.5L216.2 230.6L218.4 228.8L220.6 226.9L222.7 225.1L224.8 223.3L226.9 221.4L228.9 219.6L230.9 217.8L232.8 215.9L234.7 214.1L236.6 212.2L238.5 210.3L240.3 208.4L242.1 206.5L243.9 204.6L245.7 202.6L247.4 200.6L249.2 198.6L250.9 196.6L252.7 194.5L254.4 192.4L256.2 190.2L257.9 188.0L259.7 185.8L261.4 183.4L263.2 181.1L265.0 178.6L266.8 176.1L268.6 173.6L270.5 170.9L272.8 168.2L275.0 165.4L277.0 162.4L278.7 159.2Z" fill="#0fb4f0"/>
<path d="M278.2 156.0L277.0 152.8L275.2 149.8L273.1 146.8L270.9 144.1L269.1 141.4L267.3 138.7L265.5 136.2L263.7 133.7L261.9 131.3L260.2 129.0L258.5 126.7L256.8 124.5L255.1 122.3L253.3 120.2L251.6 118.1L249.9 116.1L248.2 114.0L246.5 112.1L244.7 110.1L243.0 108.1L241.3 106.2L239.5 104.3L237.7 102.4L235.9 100.6L234.0 98.8L232.1 97.0L230.2 95.2L228.2 93.4L226.2 91.6L224.2 89.8L222.2 88.0L220.0 86.2L217.9 84.4L215.7 82.6L213.4 80.7L211.1 78.9L208.6 77.0L206.2 75.1L203.6 73.2L200.9 71.3L198.2 69.4L195.3 67.2L192.4 65.1L189.2 63.3L186.0 62.0L182.8 62.9L179.6 64.3L176.5 65.9L173.6 67.8L170.8 69.6L168.0 71.2L165.2 72.8L162.6 74.4L160.0 76.1L157.5 77.7L155.1 79.4L152.7 81.1L150.3 82.8L148.0 84.6L145.8 86.4L143.6 88.2L141.5 90.0L139.4 91.9L137.4 93.8L135.4 95.7L133.4 97.6L131.5 99.6L129.7 101.6L127.9 103.7L126.1 105.7L124.3 107.8L122.6 110.0L121.0 112.1L119.3 114.3L117.7 116.6L116.2 118.9L114.6 121.2L113.1 123.6L111.6 126.0L110.2 128.4L108.7 130.9L107.3 133.4L105.9 136.0L104.4 138.7L102.9 141.4L101.1 144.1L99.5 146.9L97.9 149.8L96.6 152.9L95.8 156.0L96.6 159.1L97.9 162.2L99.5 165.1L101.1 167.9L102.9 170.6L104.4 173.3L105.9 176.0L107.3 178.6L108.7 181.1L110.2 183.6L111.6 186.0L113.1 188.4L114.6 190.8L116.2 193.1L117.7 195.4L119.3 197.7L121.0 199.9L122.6 202.0L124.3 204.2L126.1 206.3L127.9 208.3L129.7 210.4L131.5 212.4L133.4 214.4L135.4 216.3L137.4 218.2L139.4 220.1L141.5 222.0L143.6 223.8L145.8 225.6L148.0 227.4L150.3 229.2L152.7 230.9L155.1 232.6L157.5 234.3L160.0 235.9L162.6 237.6L165.2 239.2L168.0 240.8L170.8 242.4L173.6 244.2L176.5 246.1L179.6 247.7L182.8 249.1L186.0 250.0L189.2 248.7L192.4 246.9L195.3 244.8L198.2 242.6L200.9 240.7L203.6 238.8L206.2 236.9L208.6 235.0L211.1 233.1L213.4 231.3L215.7 229.4L217.9 227.6L220.0 225.8L222.2 224.0L224.2 222.2L226.2 220.4L228.2 218.6L230.2 216.8L232.1 215.0L234.0 213.2L235.9 211.4L237.7 209.6L239.5 207.7L241.3 205.8L243.0 203.9L244.7 201.9L246.5 199.9L248.2 198.0L249.9 195.9L251.6 193.9L253.3 191.8L255.1 189.7L256.8 187.5L258.5 185.3L260.2 183.0L261.9 180.7L263.7 178.3L265.5 175.8L267.3 173.3L269.1 170.6L270.9 167.9L273.1 165.2L275.2 162.2L277.0 159.2Z" fill="#0fb8ea"/>
<path d="M276.3 156.0L275.0 152.9L273.1 149.9L271.1 147.1L269.3 144.3L267.5 141.6L265.7 139.1L264.0 136.6L262.2 134.1L260.5 131.8L258.8 129.5L257.1 127.3L255.5 125.1L253.8 122.9L252.1 120.9L250.4 118.8L248.8 116.7L247.2 114.7L245.6 112.7L243.9 110.7L242.3 108.8L240.5 106.9L238.8 105.0L237.0 103.2L235.2 101.3L233.4 99.6L231.5 97.8L229.6 96.0L227.6 94.3L225.6 92.6L223.6 91.0L221.5 89.2L219.4 87.5L217.3 85.7L215.1 83.9L212.9 82.1L210.6 80.3L208.2 78.5L205.8 76.6L203.3 74.8L200.7 72.9L198.0 70.9L195.1 69.1L192.2 67.1L189.2 65.2L186.0 63.8L182.8 64.8L179.7 66.2L176.7 67.9L173.8 69.5L171.0 71.0L168.3 72.5L165.6 74.1L163.0 75.7L160.4 77.3L158.0 78.9L155.5 80.6L153.2 82.3L150.9 84.0L148.6 85.7L146.4 87.4L144.3 89.2L142.2 91.0L140.1 92.8L138.1 94.7L136.1 96.6L134.2 98.5L132.3 100.4L130.5 102.4L128.7 104.4L127.0 106.5L125.3 108.5L123.6 110.7L122.0 112.8L120.3 115.0L118.8 117.2L117.2 119.4L115.7 121.7L114.2 124.1L112.8 126.4L111.4 128.8L109.9 131.3L108.5 133.8L107.2 136.3L105.8 139.0L104.4 141.6L103.1 144.3L101.5 147.1L99.9 150.0L98.6 152.9L97.7 156.0L98.6 159.1L99.9 162.0L101.5 164.9L103.1 167.7L104.4 170.4L105.8 173.0L107.2 175.7L108.5 178.2L109.9 180.7L111.4 183.2L112.8 185.6L114.2 187.9L115.7 190.3L117.2 192.6L118.8 194.8L120.3 197.0L122.0 199.2L123.6 201.3L125.3 203.5L127.0 205.5L128.7 207.6L130.5 209.6L132.3 211.6L134.2 213.5L136.1 215.4L138.1 217.3L140.1 219.2L142.2 221.0L144.3 222.8L146.4 224.6L148.6 226.3L150.9 228.0L153.2 229.7L155.5 231.4L158.0 233.1L160.4 234.7L163.0 236.3L165.6 237.9L168.3 239.5L171.0 241.0L173.8 242.5L176.7 244.1L179.7 245.8L182.8 247.2L186.0 248.2L189.2 246.8L192.2 244.9L195.1 242.9L198.0 241.1L200.7 239.1L203.3 237.2L205.8 235.4L208.2 233.5L210.6 231.7L212.9 229.9L215.1 228.1L217.3 226.3L219.4 224.5L221.5 222.8L223.6 221.0L225.6 219.4L227.6 217.7L229.6 216.0L231.5 214.2L233.4 212.4L235.2 210.7L237.0 208.8L238.8 207.0L240.5 205.1L242.3 203.2L243.9 201.3L245.6 199.3L247.2 197.3L248.8 195.3L250.4 193.2L252.1 191.1L253.8 189.1L255.5 186.9L257.1 184.7L258.8 182.5L260.5 180.2L262.2 177.9L264.0 175.4L265.7 172.9L267.5 170.4L269.3 167.7L271.1 164.9L273.1 162.1L275.0 159.1Z" fill="#0fbce4"/>
<path d="M274.4 156.0L273.0 153.0L271.2 150.0L269.4 147.2L267.6 144.5L265.9 141.9L264.2 139.4L262.5 136.9L260.8 134.6L259.1 132.2L257.4 130.0L255.8 127.8L254.1 125.7L252.6 123.5L251.0 121.4L249.5 119.3L247.9 117.3L246.4 115.3L244.8 113.3L243.1 111.4L241.5 109.5L239.8 107.6L238.1 105.7L236.3 103.9L234.5 102.1L232.7 100.3L230.8 98.6L228.9 96.9L227.0 95.2L225.0 93.5L223.0 91.9L221.0 90.2L218.9 88.6L216.7 87.0L214.6 85.3L212.4 83.5L210.1 81.8L207.8 80.0L205.4 78.2L202.9 76.3L200.4 74.5L197.7 72.6L195.0 70.7L192.1 68.9L189.1 67.1L186.0 65.6L182.9 66.6L179.9 68.1L176.9 69.5L174.0 70.9L171.3 72.4L168.6 73.9L165.9 75.5L163.4 77.0L160.8 78.6L158.4 80.2L156.0 81.8L153.7 83.4L151.4 85.1L149.2 86.8L147.0 88.5L144.9 90.2L142.8 92.0L140.8 93.8L138.8 95.6L136.9 97.5L135.0 99.4L133.2 101.3L131.4 103.2L129.6 105.2L127.9 107.2L126.2 109.3L124.6 111.4L122.9 113.5L121.4 115.6L119.8 117.8L118.3 120.0L116.8 122.3L115.4 124.6L114.0 126.9L112.6 129.3L111.2 131.7L109.8 134.2L108.5 136.7L107.2 139.2L105.8 141.9L104.5 144.6L103.3 147.3L101.9 150.1L100.6 153.0L99.7 156.0L100.6 159.0L101.9 161.9L103.3 164.7L104.5 167.4L105.8 170.1L107.2 172.8L108.5 175.3L109.8 177.8L111.2 180.3L112.6 182.7L114.0 185.1L115.4 187.4L116.8 189.7L118.3 192.0L119.8 194.2L121.4 196.4L122.9 198.5L124.6 200.6L126.2 202.7L127.9 204.8L129.6 206.8L131.4 208.8L133.2 210.7L135.0 212.6L136.9 214.5L138.8 216.4L140.8 218.2L142.8 220.0L144.9 221.8L147.0 223.5L149.2 225.2L151.4 226.9L153.7 228.6L156.0 230.2L158.4 231.8L160.8 233.4L163.4 235.0L165.9 236.5L168.6 238.1L171.3 239.6L174.0 241.1L176.9 242.5L179.9 243.9L182.9 245.4L186.0 246.4L189.1 244.9L192.1 243.1L195.0 241.3L197.7 239.4L200.4 237.5L202.9 235.7L205.4 233.8L207.8 232.0L210.1 230.2L212.4 228.5L214.6 226.7L216.7 225.0L218.9 223.4L221.0 221.8L223.0 220.1L225.0 218.5L227.0 216.8L228.9 215.1L230.8 213.4L232.7 211.7L234.5 209.9L236.3 208.1L238.1 206.3L239.8 204.4L241.5 202.5L243.1 200.6L244.8 198.7L246.4 196.7L247.9 194.7L249.5 192.7L251.0 190.6L252.6 188.5L254.1 186.3L255.8 184.2L257.4 182.0L259.1 179.8L260.8 177.4L262.5 175.1L264.2 172.6L265.9 170.1L267.6 167.5L269.4 164.8L271.2 162.0L273.0 159.0Z" fill="#0ec0d8"/>
<path d="M272.6 156.0L271.1 153.0L269.4 150.2L267.7 147.4L266.0 144.8L264.3 142.2L262.6 139.7L261.0 137.3L259.3 135.0L257.7 132.7L256.1 130.5L254.5 128.3L253.0 126.2L251.6 124.0L250.1 121.9L248.6 119.9L247.0 117.9L245.5 115.9L243.9 113.9L242.3 112.0L240.7 110.1L239.0 108.3L237.3 106.5L235.6 104.7L233.8 102.9L232.0 101.2L230.2 99.4L228.3 97.7L226.4 96.1L224.5 94.4L222.5 92.8L220.4 91.2L218.4 89.6L216.2 88.1L214.1 86.5L211.9 84.9L209.7 83.2L207.4 81.5L205.0 79.7L202.6 77.9L200.1 76.1L197.5 74.3L194.8 72.5L192.0 70.6L189.0 68.9L186.0 67.4L182.9 68.4L180.0 69.7L177.1 71.0L174.3 72.5L171.5 73.9L168.9 75.4L166.3 76.9L163.7 78.4L161.3 79.9L158.9 81.4L156.5 83.0L154.2 84.6L152.0 86.2L149.8 87.9L147.6 89.6L145.6 91.3L143.5 93.0L141.5 94.8L139.6 96.6L137.7 98.4L135.8 100.3L134.0 102.2L132.2 104.1L130.5 106.0L128.8 108.0L127.2 110.0L125.5 112.1L124.0 114.1L122.4 116.3L120.9 118.4L119.4 120.6L118.0 122.8L116.5 125.1L115.2 127.4L113.8 129.7L112.4 132.1L111.1 134.5L109.8 137.0L108.6 139.5L107.3 142.1L106.0 144.8L104.8 147.5L103.6 150.2L102.5 153.1L101.5 156.0L102.5 158.9L103.6 161.8L104.8 164.5L106.0 167.2L107.3 169.9L108.6 172.5L109.8 175.0L111.1 177.5L112.4 179.9L113.8 182.3L115.2 184.6L116.5 186.9L118.0 189.2L119.4 191.4L120.9 193.6L122.4 195.7L124.0 197.9L125.5 199.9L127.2 202.0L128.8 204.0L130.5 206.0L132.2 207.9L134.0 209.8L135.8 211.7L137.7 213.6L139.6 215.4L141.5 217.2L143.5 219.0L145.6 220.7L147.6 222.4L149.8 224.1L152.0 225.8L154.2 227.4L156.5 229.0L158.9 230.6L161.3 232.1L163.7 233.6L166.3 235.1L168.9 236.6L171.5 238.1L174.3 239.5L177.1 241.0L180.0 242.3L182.9 243.6L186.0 244.6L189.0 243.1L192.0 241.4L194.8 239.5L197.5 237.7L200.1 235.9L202.6 234.1L205.0 232.3L207.4 230.5L209.7 228.8L211.9 227.1L214.1 225.5L216.2 223.9L218.4 222.4L220.4 220.8L222.5 219.2L224.5 217.6L226.4 215.9L228.3 214.3L230.2 212.6L232.0 210.8L233.8 209.1L235.6 207.3L237.3 205.5L239.0 203.7L240.7 201.9L242.3 200.0L243.9 198.1L245.5 196.1L247.0 194.1L248.6 192.1L250.1 190.1L251.6 188.0L253.0 185.8L254.5 183.7L256.1 181.5L257.7 179.3L259.3 177.0L261.0 174.7L262.6 172.3L264.3 169.8L266.0 167.2L267.7 164.6L269.4 161.8L271.1 159.0Z" fill="#0cc4c6"/>
<path d="M270.7 156.0L269.3 153.1L267.6 150.3L266.0 147.6L264.3 145.0L262.7 142.5L261.1 140.0L259.4 137.7L257.8 135.4L256.3 133.2L254.9 130.9L253.4 128.8L252.0 126.6L250.6 124.5L249.1 122.5L247.6 120.4L246.1 118.4L244.6 116.5L243.0 114.6L241.4 112.7L239.8 110.8L238.2 109.0L236.5 107.2L234.8 105.4L233.1 103.7L231.3 102.0L229.5 100.3L227.7 98.6L225.8 97.0L223.9 95.4L221.9 93.8L219.9 92.2L217.9 90.6L215.8 89.1L213.6 87.6L211.5 86.1L209.2 84.5L206.9 83.0L204.6 81.2L202.3 79.5L199.8 77.8L197.2 76.0L194.6 74.2L191.8 72.4L189.0 70.7L186.0 69.2L183.0 70.1L180.1 71.3L177.2 72.7L174.5 74.0L171.8 75.4L169.2 76.8L166.6 78.3L164.1 79.7L161.7 81.2L159.3 82.7L157.0 84.3L154.8 85.8L152.5 87.4L150.4 89.0L148.3 90.7L146.2 92.3L144.2 94.1L142.3 95.8L140.3 97.5L138.5 99.3L136.6 101.2L134.8 103.0L133.1 104.9L131.4 106.8L129.7 108.8L128.1 110.8L126.5 112.8L125.0 114.8L123.5 116.9L122.0 119.0L120.5 121.2L119.1 123.4L117.7 125.6L116.4 127.9L115.0 130.2L113.7 132.5L112.5 134.9L111.2 137.4L110.0 139.8L108.8 142.4L107.6 145.0L106.4 147.6L105.3 150.4L104.2 153.1L103.4 156.0L104.2 158.9L105.3 161.6L106.4 164.4L107.6 167.0L108.8 169.6L110.0 172.2L111.2 174.6L112.5 177.1L113.7 179.5L115.0 181.8L116.4 184.1L117.7 186.4L119.1 188.6L120.5 190.8L122.0 193.0L123.5 195.1L125.0 197.2L126.5 199.2L128.1 201.2L129.7 203.2L131.4 205.2L133.1 207.1L134.8 209.0L136.6 210.8L138.5 212.7L140.3 214.5L142.3 216.2L144.2 217.9L146.2 219.7L148.3 221.3L150.4 223.0L152.5 224.6L154.8 226.2L157.0 227.7L159.3 229.3L161.7 230.8L164.1 232.3L166.6 233.7L169.2 235.2L171.8 236.6L174.5 238.0L177.2 239.3L180.1 240.7L183.0 241.9L186.0 242.8L189.0 241.3L191.8 239.6L194.6 237.8L197.2 236.0L199.8 234.2L202.3 232.5L204.6 230.8L206.9 229.0L209.2 227.5L211.5 225.9L213.6 224.4L215.8 222.9L217.9 221.4L219.9 219.8L221.9 218.2L223.9 216.6L225.8 215.0L227.7 213.4L229.5 211.7L231.3 210.0L233.1 208.3L234.8 206.6L236.5 204.8L238.2 203.0L239.8 201.2L241.4 199.3L243.0 197.4L244.6 195.5L246.1 193.6L247.6 191.6L249.1 189.5L250.6 187.5L252.0 185.4L253.4 183.2L254.9 181.1L256.3 178.8L257.8 176.6L259.4 174.3L261.1 172.0L262.7 169.5L264.3 167.0L266.0 164.4L267.6 161.7L269.3 158.9Z" fill="#0ac8b4"/>
<path d="M268.8 156.0L267.4 153.2L265.9 150.4L264.3 147.8L262.7 145.2L261.1 142.8L259.5 140.4L257.9 138.1L256.5 135.8L255.1 133.5L253.7 131.3L252.4 129.2L251.0 127.1L249.5 125.0L248.1 123.0L246.6 121.0L245.2 119.0L243.7 117.1L242.1 115.2L240.6 113.4L239.0 111.5L237.4 109.7L235.7 108.0L234.1 106.2L232.4 104.5L230.6 102.8L228.8 101.2L227.0 99.5L225.2 97.9L223.3 96.3L221.4 94.8L219.4 93.2L217.4 91.7L215.3 90.2L213.2 88.7L211.0 87.2L208.8 85.7L206.6 84.2L204.3 82.8L201.9 81.1L199.5 79.4L197.0 77.7L194.4 76.0L191.7 74.2L188.9 72.6L186.0 71.1L183.1 72.0L180.2 73.1L177.4 74.3L174.7 75.6L172.1 77.0L169.5 78.3L167.0 79.7L164.5 81.1L162.1 82.5L159.8 84.0L157.5 85.5L155.3 87.0L153.1 88.6L151.0 90.1L148.9 91.7L146.8 93.3L144.9 95.0L142.9 96.7L141.0 98.4L139.2 100.2L137.4 102.0L135.6 103.8L133.9 105.7L132.2 107.6L130.6 109.5L129.0 111.5L127.4 113.5L125.9 115.5L124.5 117.6L123.1 119.7L121.7 121.8L120.3 123.9L118.9 126.1L117.6 128.4L116.3 130.6L115.0 132.9L113.8 135.3L112.6 137.7L111.4 140.1L110.2 142.6L109.1 145.2L108.0 147.8L107.0 150.5L106.0 153.2L105.3 156.0L106.0 158.8L107.0 161.5L108.0 164.2L109.1 166.8L110.2 169.4L111.4 171.9L112.6 174.3L113.8 176.7L115.0 179.1L116.3 181.4L117.6 183.6L118.9 185.9L120.3 188.1L121.7 190.2L123.1 192.3L124.5 194.4L125.9 196.5L127.4 198.5L129.0 200.5L130.6 202.5L132.2 204.4L133.9 206.3L135.6 208.2L137.4 210.0L139.2 211.8L141.0 213.6L142.9 215.3L144.9 217.0L146.8 218.7L148.9 220.3L151.0 221.9L153.1 223.4L155.3 225.0L157.5 226.5L159.8 228.0L162.1 229.5L164.5 230.9L167.0 232.3L169.5 233.7L172.1 235.0L174.7 236.4L177.4 237.7L180.2 238.9L183.1 240.0L186.0 240.9L188.9 239.4L191.7 237.8L194.4 236.0L197.0 234.3L199.5 232.6L201.9 230.9L204.3 229.2L206.6 227.8L208.8 226.3L211.0 224.8L213.2 223.3L215.3 221.8L217.4 220.3L219.4 218.8L221.4 217.2L223.3 215.7L225.2 214.1L227.0 212.5L228.8 210.8L230.6 209.2L232.4 207.5L234.1 205.8L235.7 204.0L237.4 202.3L239.0 200.5L240.6 198.6L242.1 196.8L243.7 194.9L245.2 193.0L246.6 191.0L248.1 189.0L249.5 187.0L251.0 184.9L252.4 182.8L253.7 180.7L255.1 178.5L256.5 176.2L257.9 173.9L259.5 171.6L261.1 169.2L262.7 166.8L264.3 164.2L265.9 161.6L267.4 158.8Z" fill="#06cc98"/>
<path d="M266.7 156.0L265.4 153.2L264.0 150.5L262.4 148.0L260.9 145.5L259.3 143.1L257.9 140.7L256.6 138.4L255.2 136.2L253.9 133.9L252.5 131.8L251.2 129.7L249.8 127.6L248.4 125.6L247.0 123.6L245.6 121.6L244.1 119.7L242.7 117.8L241.2 115.9L239.6 114.1L238.1 112.3L236.5 110.5L234.9 108.8L233.2 107.1L231.6 105.4L229.9 103.7L228.1 102.1L226.3 100.5L224.5 98.9L222.6 97.4L220.7 95.8L218.8 94.3L216.8 92.8L214.8 91.3L212.7 89.9L210.6 88.4L208.4 87.0L206.2 85.5L203.9 84.1L201.6 82.7L199.2 81.2L196.8 79.5L194.2 77.8L191.6 76.2L188.8 74.6L186.0 73.2L183.1 74.0L180.3 75.0L177.6 76.1L174.9 77.4L172.4 78.6L169.8 79.9L167.4 81.2L165.0 82.6L162.6 84.0L160.3 85.4L158.0 86.8L155.8 88.3L153.7 89.7L151.6 91.3L149.5 92.8L147.5 94.4L145.5 96.0L143.6 97.7L141.8 99.4L139.9 101.1L138.2 102.9L136.4 104.7L134.7 106.5L133.1 108.4L131.5 110.3L129.9 112.2L128.4 114.2L126.9 116.2L125.5 118.2L124.1 120.3L122.8 122.4L121.5 124.5L120.2 126.7L118.9 128.9L117.7 131.1L116.5 133.4L115.3 135.7L114.1 138.1L113.0 140.5L111.9 142.9L110.8 145.4L109.8 148.0L108.8 150.6L107.9 153.3L107.3 156.0L107.9 158.7L108.8 161.4L109.8 164.0L110.8 166.6L111.9 169.1L113.0 171.5L114.1 173.9L115.3 176.3L116.5 178.6L117.7 180.9L118.9 183.1L120.2 185.3L121.5 187.5L122.8 189.6L124.1 191.7L125.5 193.8L126.9 195.8L128.4 197.8L129.9 199.8L131.5 201.7L133.1 203.6L134.7 205.5L136.4 207.3L138.2 209.1L139.9 210.9L141.8 212.6L143.6 214.3L145.5 216.0L147.5 217.6L149.5 219.2L151.6 220.7L153.7 222.3L155.8 223.7L158.0 225.2L160.3 226.6L162.6 228.0L165.0 229.4L167.4 230.8L169.8 232.1L172.4 233.4L174.9 234.6L177.6 235.9L180.3 237.0L183.1 238.0L186.0 238.8L188.8 237.4L191.6 235.8L194.2 234.2L196.8 232.5L199.2 230.8L201.6 229.3L203.9 227.9L206.2 226.5L208.4 225.0L210.6 223.6L212.7 222.1L214.8 220.7L216.8 219.2L218.8 217.7L220.7 216.2L222.6 214.6L224.5 213.1L226.3 211.5L228.1 209.9L229.9 208.3L231.6 206.6L233.2 204.9L234.9 203.2L236.5 201.5L238.1 199.7L239.6 197.9L241.2 196.1L242.7 194.2L244.1 192.3L245.6 190.4L247.0 188.4L248.4 186.4L249.8 184.4L251.2 182.3L252.5 180.2L253.9 178.1L255.2 175.8L256.6 173.6L257.9 171.3L259.3 168.9L260.9 166.5L262.4 164.0L264.0 161.5L265.4 158.8Z" fill="#02d07c"/>
<path d="M264.6 156.0L263.4 153.3L262.0 150.7L260.6 148.2L259.1 145.7L257.8 143.3L256.5 141.0L255.2 138.8L253.9 136.5L252.6 134.4L251.3 132.2L249.9 130.2L248.6 128.1L247.2 126.1L245.9 124.2L244.5 122.2L243.1 120.3L241.6 118.5L240.2 116.7L238.7 114.9L237.1 113.1L235.6 111.4L234.0 109.7L232.4 108.0L230.7 106.3L229.1 104.7L227.3 103.1L225.6 101.5L223.8 100.0L222.0 98.4L220.1 96.9L218.2 95.5L216.2 94.0L214.3 92.5L212.2 91.1L210.1 89.7L208.0 88.3L205.8 86.9L203.6 85.5L201.3 84.1L198.9 82.7L196.5 81.3L194.0 79.8L191.4 78.2L188.8 76.6L186.0 75.3L183.2 76.0L180.5 76.9L177.8 78.0L175.2 79.1L172.7 80.3L170.2 81.6L167.8 82.8L165.4 84.1L163.1 85.4L160.8 86.7L158.6 88.1L156.4 89.5L154.3 90.9L152.2 92.4L150.2 93.9L148.2 95.5L146.3 97.1L144.4 98.7L142.5 100.4L140.7 102.1L139.0 103.8L137.3 105.6L135.6 107.4L134.0 109.2L132.4 111.1L130.9 113.0L129.4 114.9L128.0 116.9L126.6 118.9L125.2 120.9L123.9 123.0L122.6 125.1L121.4 127.2L120.2 129.4L119.0 131.6L117.9 133.9L116.8 136.1L115.7 138.5L114.6 140.8L113.5 143.2L112.5 145.7L111.5 148.2L110.7 150.7L109.9 153.3L109.3 156.0L109.9 158.7L110.7 161.3L111.5 163.8L112.5 166.3L113.5 168.8L114.6 171.2L115.7 173.5L116.8 175.9L117.9 178.1L119.0 180.4L120.2 182.6L121.4 184.8L122.6 186.9L123.9 189.0L125.2 191.1L126.6 193.1L128.0 195.1L129.4 197.1L130.9 199.0L132.4 200.9L134.0 202.8L135.6 204.6L137.3 206.4L139.0 208.2L140.7 209.9L142.5 211.6L144.4 213.3L146.3 214.9L148.2 216.5L150.2 218.1L152.2 219.6L154.3 221.1L156.4 222.5L158.6 223.9L160.8 225.3L163.1 226.6L165.4 227.9L167.8 229.2L170.2 230.4L172.7 231.7L175.2 232.9L177.8 234.0L180.5 235.1L183.2 236.0L186.0 236.7L188.8 235.4L191.4 233.8L194.0 232.2L196.5 230.7L198.9 229.3L201.3 227.9L203.6 226.5L205.8 225.1L208.0 223.7L210.1 222.3L212.2 220.9L214.3 219.5L216.2 218.0L218.2 216.5L220.1 215.1L222.0 213.6L223.8 212.0L225.6 210.5L227.3 208.9L229.1 207.3L230.7 205.7L232.4 204.0L234.0 202.3L235.6 200.6L237.1 198.9L238.7 197.1L240.2 195.3L241.6 193.5L243.1 191.7L244.5 189.8L245.9 187.8L247.2 185.9L248.6 183.9L249.9 181.8L251.3 179.8L252.6 177.6L253.9 175.5L255.2 173.2L256.5 171.0L257.8 168.7L259.1 166.3L260.6 163.8L262.0 161.3L263.4 158.7Z" fill="#00d85e"/>
<path d="M262.2 156.0L261.1 153.4L259.8 150.8L258.5 148.4L257.3 146.0L256.0 143.7L254.8 141.4L253.5 139.2L252.3 137.0L251.0 134.9L249.8 132.8L248.5 130.8L247.2 128.8L245.9 126.8L244.5 124.9L243.2 123.0L241.8 121.1L240.4 119.3L238.9 117.5L237.5 115.8L236.0 114.1L234.5 112.4L232.9 110.7L231.3 109.1L229.7 107.4L228.1 105.8L226.4 104.3L224.7 102.7L222.9 101.2L221.2 99.7L219.3 98.2L217.5 96.8L215.6 95.4L213.6 94.0L211.6 92.6L209.6 91.2L207.5 89.8L205.4 88.5L203.2 87.2L200.9 85.8L198.6 84.5L196.2 83.2L193.8 81.8L191.3 80.4L188.7 79.0L186.0 77.8L183.3 78.3L180.6 79.2L178.0 80.2L175.5 81.2L173.0 82.3L170.6 83.4L168.2 84.6L165.9 85.8L163.6 87.0L161.4 88.3L159.2 89.6L157.0 91.0L155.0 92.4L152.9 93.8L150.9 95.3L149.0 96.8L147.1 98.3L145.2 99.9L143.4 101.5L141.7 103.2L140.0 104.9L138.3 106.6L136.7 108.4L135.1 110.2L133.6 112.0L132.1 113.9L130.6 115.8L129.2 117.7L127.9 119.7L126.5 121.7L125.3 123.7L124.0 125.8L122.8 127.9L121.7 130.0L120.5 132.2L119.4 134.4L118.4 136.6L117.4 138.9L116.4 141.2L115.4 143.6L114.5 146.0L113.6 148.4L112.8 150.9L112.1 153.4L111.6 156.0L112.1 158.6L112.8 161.1L113.6 163.6L114.5 166.0L115.4 168.4L116.4 170.8L117.4 173.1L118.4 175.4L119.4 177.6L120.5 179.8L121.7 182.0L122.8 184.1L124.0 186.2L125.3 188.3L126.5 190.3L127.9 192.3L129.2 194.3L130.6 196.2L132.1 198.1L133.6 200.0L135.1 201.8L136.7 203.6L138.3 205.4L140.0 207.1L141.7 208.8L143.4 210.5L145.2 212.1L147.1 213.7L149.0 215.2L150.9 216.7L152.9 218.2L155.0 219.6L157.0 221.0L159.2 222.4L161.4 223.7L163.6 225.0L165.9 226.2L168.2 227.4L170.6 228.6L173.0 229.7L175.5 230.8L178.0 231.8L180.6 232.8L183.3 233.7L186.0 234.2L188.7 233.0L191.3 231.6L193.8 230.2L196.2 228.8L198.6 227.5L200.9 226.2L203.2 224.8L205.4 223.5L207.5 222.2L209.6 220.8L211.6 219.4L213.6 218.0L215.6 216.6L217.5 215.2L219.3 213.8L221.2 212.3L222.9 210.8L224.7 209.3L226.4 207.7L228.1 206.2L229.7 204.6L231.3 202.9L232.9 201.3L234.5 199.6L236.0 197.9L237.5 196.2L238.9 194.5L240.4 192.7L241.8 190.9L243.2 189.0L244.5 187.1L245.9 185.2L247.2 183.2L248.5 181.2L249.8 179.2L251.0 177.1L252.3 175.0L253.5 172.8L254.8 170.6L256.0 168.3L257.3 166.0L258.5 163.6L259.8 161.2L261.1 158.6Z" fill="#00e43e"/>
<path d="M259.9 156.0L258.9 153.5L257.7 151.0L256.6 148.6L255.4 146.2L254.2 144.0L253.0 141.7L251.9 139.6L250.7 137.5L249.5 135.4L248.2 133.3L247.0 131.3L245.7 129.4L244.4 127.5L243.1 125.6L241.8 123.8L240.5 122.0L239.1 120.2L237.7 118.5L236.2 116.7L234.8 115.1L233.3 113.4L231.8 111.8L230.3 110.2L228.7 108.6L227.1 107.0L225.4 105.5L223.8 104.0L222.1 102.5L220.3 101.1L218.5 99.6L216.7 98.2L214.9 96.8L213.0 95.4L211.0 94.1L209.0 92.7L207.0 91.4L204.9 90.1L202.7 88.9L200.5 87.6L198.3 86.3L196.0 85.1L193.6 83.8L191.1 82.5L188.6 81.3L186.0 80.2L183.4 80.7L180.8 81.4L178.3 82.3L175.8 83.2L173.3 84.2L171.0 85.2L168.6 86.3L166.4 87.5L164.1 88.7L161.9 89.9L159.8 91.1L157.7 92.5L155.7 93.8L153.7 95.2L151.7 96.6L149.8 98.1L148.0 99.6L146.1 101.1L144.4 102.7L142.7 104.3L141.0 106.0L139.4 107.7L137.8 109.4L136.2 111.2L134.7 113.0L133.3 114.8L131.9 116.7L130.5 118.6L129.2 120.5L127.9 122.5L126.7 124.4L125.5 126.5L124.3 128.5L123.2 130.6L122.1 132.7L121.1 134.9L120.1 137.1L119.1 139.3L118.2 141.6L117.3 143.9L116.4 146.2L115.7 148.6L115.0 151.0L114.3 153.5L114.0 156.0L114.3 158.5L115.0 161.0L115.7 163.4L116.4 165.8L117.3 168.1L118.2 170.4L119.1 172.7L120.1 174.9L121.1 177.1L122.1 179.3L123.2 181.4L124.3 183.5L125.5 185.5L126.7 187.6L127.9 189.5L129.2 191.5L130.5 193.4L131.9 195.3L133.3 197.2L134.7 199.0L136.2 200.8L137.8 202.6L139.4 204.3L141.0 206.0L142.7 207.7L144.4 209.3L146.1 210.9L148.0 212.4L149.8 213.9L151.7 215.4L153.7 216.8L155.7 218.2L157.7 219.5L159.8 220.9L161.9 222.1L164.1 223.3L166.4 224.5L168.6 225.7L171.0 226.8L173.3 227.8L175.8 228.8L178.3 229.7L180.8 230.6L183.4 231.3L186.0 231.8L188.6 230.7L191.1 229.5L193.6 228.2L196.0 226.9L198.3 225.7L200.5 224.4L202.7 223.1L204.9 221.9L207.0 220.6L209.0 219.3L211.0 217.9L213.0 216.6L214.9 215.2L216.7 213.8L218.5 212.4L220.3 210.9L222.1 209.5L223.8 208.0L225.4 206.5L227.1 205.0L228.7 203.4L230.3 201.8L231.8 200.2L233.3 198.6L234.8 196.9L236.2 195.3L237.7 193.5L239.1 191.8L240.5 190.0L241.8 188.2L243.1 186.4L244.4 184.5L245.7 182.6L247.0 180.7L248.2 178.7L249.5 176.6L250.7 174.5L251.9 172.4L253.0 170.3L254.2 168.0L255.4 165.8L256.6 163.4L257.7 161.0L258.9 158.5Z" fill="#00f01e"/>
<path d="M257.5 156.0L256.7 153.5L255.6 151.1L254.6 148.8L253.5 146.5L252.4 144.3L251.3 142.1L250.2 140.0L249.0 137.9L247.8 135.9L246.6 133.9L245.4 132.0L244.2 130.1L243.0 128.2L241.7 126.4L240.4 124.6L239.1 122.8L237.7 121.1L236.4 119.4L235.0 117.7L233.6 116.1L232.1 114.5L230.7 112.9L229.2 111.3L227.6 109.8L226.1 108.3L224.5 106.8L222.8 105.3L221.2 103.9L219.5 102.5L217.7 101.1L215.9 99.7L214.1 98.3L212.3 97.0L210.4 95.7L208.4 94.4L206.4 93.1L204.4 91.8L202.3 90.6L200.2 89.4L198.0 88.2L195.7 87.0L193.4 85.8L191.0 84.7L188.5 83.6L186.0 82.7L183.5 83.0L180.9 83.7L178.5 84.4L176.1 85.3L173.7 86.2L171.4 87.1L169.1 88.2L166.9 89.2L164.7 90.4L162.5 91.5L160.4 92.7L158.4 94.0L156.4 95.3L154.4 96.6L152.5 98.0L150.7 99.5L148.8 100.9L147.1 102.4L145.3 104.0L143.7 105.5L142.0 107.2L140.4 108.8L138.9 110.5L137.4 112.2L135.9 114.0L134.5 115.8L133.1 117.6L131.8 119.4L130.5 121.3L129.3 123.3L128.1 125.2L126.9 127.2L125.8 129.2L124.7 131.2L123.7 133.3L122.7 135.4L121.8 137.6L120.9 139.8L120.0 142.0L119.2 144.2L118.4 146.5L117.7 148.8L117.1 151.2L116.6 153.6L116.3 156.0L116.6 158.4L117.1 160.8L117.7 163.2L118.4 165.5L119.2 167.8L120.0 170.0L120.9 172.2L121.8 174.4L122.7 176.6L123.7 178.7L124.7 180.8L125.8 182.8L126.9 184.8L128.1 186.8L129.3 188.7L130.5 190.7L131.8 192.6L133.1 194.4L134.5 196.2L135.9 198.0L137.4 199.8L138.9 201.5L140.4 203.2L142.0 204.8L143.7 206.5L145.3 208.0L147.1 209.6L148.8 211.1L150.7 212.5L152.5 214.0L154.4 215.4L156.4 216.7L158.4 218.0L160.4 219.3L162.5 220.5L164.7 221.6L166.9 222.8L169.1 223.8L171.4 224.9L173.7 225.8L176.1 226.7L178.5 227.6L180.9 228.3L183.5 229.0L186.0 229.3L188.5 228.4L191.0 227.3L193.4 226.2L195.7 225.0L198.0 223.8L200.2 222.6L202.3 221.4L204.4 220.2L206.4 218.9L208.4 217.6L210.4 216.3L212.3 215.0L214.1 213.7L215.9 212.3L217.7 210.9L219.5 209.5L221.2 208.1L222.8 206.7L224.5 205.2L226.1 203.7L227.6 202.2L229.2 200.7L230.7 199.1L232.1 197.5L233.6 195.9L235.0 194.3L236.4 192.6L237.7 190.9L239.1 189.2L240.4 187.4L241.7 185.6L243.0 183.8L244.2 181.9L245.4 180.0L246.6 178.1L247.8 176.1L249.0 174.1L250.2 172.0L251.3 169.9L252.4 167.7L253.5 165.5L254.6 163.2L255.6 160.9L256.7 158.5Z" fill="#00f612"/>
<path d="M255.1 156.0L254.4 153.6L253.5 151.3L252.5 149.0L251.5 146.8L250.5 144.6L249.4 142.5L248.4 140.5L247.3 138.4L246.1 136.5L245.0 134.5L243.8 132.6L242.6 130.8L241.4 129.0L240.2 127.2L239.0 125.4L237.7 123.7L236.4 122.0L235.1 120.4L233.7 118.7L232.3 117.1L230.9 115.5L229.5 114.0L228.0 112.5L226.5 111.0L225.0 109.5L223.5 108.1L221.9 106.6L220.2 105.2L218.6 103.9L216.9 102.5L215.2 101.2L213.4 99.9L211.6 98.6L209.7 97.3L207.8 96.1L205.9 94.8L203.9 93.6L201.9 92.4L199.8 91.2L197.6 90.1L195.4 89.0L193.2 87.9L190.8 86.8L188.4 85.9L186.0 85.1L183.5 85.4L181.1 85.9L178.7 86.6L176.4 87.3L174.0 88.2L171.8 89.1L169.6 90.0L167.4 91.0L165.2 92.1L163.2 93.2L161.1 94.4L159.1 95.7L157.2 96.9L155.3 98.3L153.4 99.6L151.6 101.0L149.9 102.4L148.2 103.9L146.5 105.4L144.9 107.0L143.3 108.5L141.7 110.1L140.2 111.8L138.7 113.5L137.3 115.2L135.9 116.9L134.6 118.7L133.3 120.5L132.0 122.3L130.8 124.1L129.6 126.0L128.5 128.0L127.4 129.9L126.4 131.9L125.4 133.9L124.4 136.0L123.5 138.1L122.7 140.2L121.9 142.4L121.1 144.6L120.4 146.8L119.8 149.0L119.3 151.3L118.8 153.7L118.6 156.0L118.8 158.3L119.3 160.7L119.8 163.0L120.4 165.2L121.1 167.4L121.9 169.6L122.7 171.8L123.5 173.9L124.4 176.0L125.4 178.1L126.4 180.1L127.4 182.1L128.5 184.0L129.6 186.0L130.8 187.9L132.0 189.7L133.3 191.5L134.6 193.3L135.9 195.1L137.3 196.8L138.7 198.5L140.2 200.2L141.7 201.9L143.3 203.5L144.9 205.0L146.5 206.6L148.2 208.1L149.9 209.6L151.6 211.0L153.4 212.4L155.3 213.7L157.2 215.1L159.1 216.3L161.1 217.6L163.2 218.8L165.2 219.9L167.4 221.0L169.6 222.0L171.8 222.9L174.0 223.8L176.4 224.7L178.7 225.4L181.1 226.1L183.5 226.6L186.0 226.9L188.4 226.1L190.8 225.2L193.2 224.1L195.4 223.0L197.6 221.9L199.8 220.8L201.9 219.6L203.9 218.4L205.9 217.2L207.8 215.9L209.7 214.7L211.6 213.4L213.4 212.1L215.2 210.8L216.9 209.5L218.6 208.1L220.2 206.8L221.9 205.4L223.5 203.9L225.0 202.5L226.5 201.0L228.0 199.5L229.5 198.0L230.9 196.5L232.3 194.9L233.7 193.3L235.1 191.6L236.4 190.0L237.7 188.3L239.0 186.6L240.2 184.8L241.4 183.0L242.6 181.2L243.8 179.4L245.0 177.5L246.1 175.5L247.3 173.6L248.4 171.5L249.4 169.5L250.5 167.4L251.5 165.2L252.5 163.0L253.5 160.7L254.4 158.4Z" fill="#00fc06"/>
</g>
<path d="M308.60 157.30L308.53 154.08L308.35 150.87L308.06 147.66L307.68 144.47L307.21 141.29L306.64 138.13L305.98 134.99L305.25 131.87L304.43 128.77L303.52 125.70L302.55 122.66L301.49 119.65L300.36 116.66L299.16 113.71L297.88 110.79L296.54 107.91L295.12 105.06L293.64 102.25L292.10 99.48L290.49 96.74L288.82 94.05L287.08 91.40L285.29 88.79L283.44 86.22L281.52 83.70L279.55 81.22L277.53 78.79L275.44 76.40L273.31 74.07L271.12 71.78L268.87 69.55L266.58 67.36L264.23 65.23L261.84 63.15L259.39 61.13L256.90 59.16L254.36 57.25L251.77 55.40L249.14 53.61L246.46 51.88L243.74 50.22L240.98 48.62L238.17 47.08L235.33 45.61L232.44 44.21L229.52 42.89L226.56 41.63L223.57 40.45L220.54 39.35L217.48 38.32L214.39 37.38L211.27 36.52L208.13 35.75L204.96 35.06L201.77 34.47L198.56 33.97L195.34 33.56L192.10 33.26L188.85 33.07L185.60 33.00L182.35 33.07L179.10 33.26L175.86 33.56L172.64 33.97L169.43 34.47L166.24 35.06L163.07 35.75L159.93 36.52L156.81 37.38L153.72 38.32L150.66 39.35L147.63 40.45L144.64 41.63L141.68 42.89L138.76 44.21L135.87 45.61L133.03 47.08L130.22 48.62L127.46 50.22L124.74 51.88L122.06 53.61L119.43 55.40L116.84 57.25L114.30 59.16L111.81 61.13L109.36 63.15L106.97 65.23L104.62 67.36L102.33 69.55L100.08 71.78L97.89 74.07L95.76 76.40L93.67 78.79L91.65 81.22L89.68 83.70L87.76 86.22L85.91 88.79L84.12 91.40L82.38 94.05L80.71 96.74L79.10 99.48L77.56 102.25L76.08 105.06L74.66 107.91L73.32 110.79L72.04 113.71L70.84 116.66L69.71 119.65L68.65 122.66L67.68 125.70L66.77 128.77L65.95 131.87L65.22 134.99L64.56 138.13L63.99 141.29L63.52 144.47L63.14 147.66L62.85 150.87L62.67 154.08L62.60 157.30L62.67 160.52L62.85 163.73L63.14 166.94L63.52 170.13L63.99 173.31L64.56 176.47L65.22 179.61L65.95 182.73L66.77 185.83L67.68 188.90L68.65 191.94L69.71 194.95L70.84 197.94L72.04 200.89L73.32 203.81L74.66 206.69L76.08 209.54L77.56 212.35L79.10 215.12L80.71 217.86L82.38 220.55L84.12 223.20L85.91 225.81L87.76 228.38L89.68 230.90L91.65 233.38L93.67 235.81L95.76 238.20L97.89 240.53L100.08 242.82L102.33 245.05L104.62 247.24L106.97 249.37L109.36 251.45L111.81 253.47L114.30 255.44L116.84 257.35L119.43 259.20L122.06 260.99L124.74 262.72L127.46 264.38L130.22 265.98L133.03 267.52L135.87 268.99L138.76 270.39L141.68 271.71L144.64 272.97L147.63 274.15L150.66 275.25L153.72 276.28L156.81 277.22L159.93 278.08L163.07 278.85L166.24 279.54L169.43 280.13L172.64 280.63L175.86 281.04L179.10 281.34L182.35 281.53L185.60 281.60L188.85 281.53L192.10 281.34L195.34 281.04L198.56 280.63L201.77 280.13L204.96 279.54L208.13 278.85L211.27 278.08L214.39 277.22L217.48 276.28L220.54 275.25L223.57 274.15L226.56 272.97L229.52 271.71L232.44 270.39L235.33 268.99L238.17 267.52L240.98 265.98L243.74 264.38L246.46 262.72L249.14 260.99L251.77 259.20L254.36 257.35L256.90 255.44L259.39 253.47L261.84 251.45L264.23 249.37L266.58 247.24L268.87 245.05L271.12 242.82L273.31 240.53L275.44 238.20L277.53 235.81L279.55 233.38L281.52 230.90L283.44 228.38L285.29 225.81L287.08 223.20L288.82 220.55L290.49 217.86L292.10 215.12L293.64 212.35L295.12 209.54L296.54 206.69L297.88 203.81L299.16 200.89L300.36 197.94L301.49 194.95L302.55 191.94L303.52 188.90L304.43 185.83L305.25 182.73L305.98 179.61L306.64 176.47L307.21 173.31L307.68 170.13L308.06 166.94L308.35 163.73L308.53 160.52Z" fill="none" stroke="#000" stroke-width="1.6" opacity="0.35"/>
<rect x="64" y="35.5" width="243.4" height="243.6" fill="none" stroke="#000" stroke-width="1.4" opacity="0.35"/>
</g></g>
<path d="M99.7 35.5V279.1M142.7 35.5V279.1M185.7 35.5V279.1M228.7 35.5V279.1M271.7 35.5V279.1M64.0 260.6H307.4M64.0 243.4H307.4M64.0 226.2H307.4M64.0 208.9H307.4M64.0 191.7H307.4M64.0 174.5H307.4M64.0 157.3H307.4M64.0 140.1H307.4M64.0 122.9H307.4M64.0 105.7H307.4M64.0 88.4H307.4M64.0 71.2H307.4M64.0 54.0H307.4" stroke="#000" stroke-width="0.9" fill="none" opacity="0.17"/>
<path d="M99.7 35.5V279.1M142.7 35.5V279.1M185.7 35.5V279.1M228.7 35.5V279.1M271.7 35.5V279.1M64.0 260.6H307.4M64.0 243.4H307.4M64.0 226.2H307.4M64.0 208.9H307.4M64.0 191.7H307.4M64.0 174.5H307.4M64.0 157.3H307.4M64.0 140.1H307.4M64.0 122.9H307.4M64.0 105.7H307.4M64.0 88.4H307.4M64.0 71.2H307.4M64.0 54.0H307.4" stroke="#b4a8a8" stroke-width="0.9" stroke-dasharray="1 1" fill="none" opacity="0.33"/>
<text class="m t" x="64" y="30.7" text-anchor="middle">-1415</text>
<text class="m t" x="64" y="288.8" text-anchor="middle">-1415</text>
<text class="m t" x="99.69" y="30.7" text-anchor="middle">-1000</text>
<text class="m t" x="99.69" y="288.8" text-anchor="middle">-1000</text>
<text class="m t" x="142.7" y="30.7" text-anchor="middle">-500</text>
<text class="m t" x="142.7" y="288.8" text-anchor="middle">-500</text>
<text class="m t" x="185.7" y="30.7" text-anchor="middle">0</text>
<text class="m t" x="185.7" y="288.8" text-anchor="middle">0</text>
<text class="m t" x="228.7" y="30.7" text-anchor="middle">500</text>
<text class="m t" x="228.7" y="288.8" text-anchor="middle">500</text>
<text class="m t" x="271.71" y="30.7" text-anchor="middle">1000</text>
<text class="m t" x="271.71" y="288.8" text-anchor="middle">1000</text>
<text class="m t" x="307.4" y="30.7" text-anchor="middle">1415</text>
<text class="m t" x="307.4" y="288.8" text-anchor="middle">1415</text>
<text class="m t" x="63.6" y="280.41" text-anchor="end">-1400</text>
<text class="m t" x="308" y="280.41">-1400</text>
<text class="m t" x="63.6" y="263.19" text-anchor="end">-1200</text>
<text class="m t" x="308" y="263.19">-1200</text>
<text class="m t" x="63.6" y="245.98" text-anchor="end">-1000</text>
<text class="m t" x="308" y="245.98">-1000</text>
<text class="m t" x="63.6" y="228.76" text-anchor="end">-800</text>
<text class="m t" x="308" y="228.76">-800</text>
<text class="m t" x="63.6" y="211.55" text-anchor="end">-600</text>
<text class="m t" x="308" y="211.55">-600</text>
<text class="m t" x="63.6" y="194.33" text-anchor="end">-400</text>
<text class="m t" x="308" y="194.33">-400</text>
<text class="m t" x="63.6" y="177.12" text-anchor="end">-200</text>
<text class="m t" x="308" y="177.12">-200</text>
<text class="m t" x="63.6" y="159.9" text-anchor="end">0</text>
<text class="m t" x="308" y="159.9">0</text>
<text class="m t" x="63.6" y="142.68" text-anchor="end">200</text>
<text class="m t" x="308" y="142.68">200</text>
<text class="m t" x="63.6" y="125.47" text-anchor="end">400</text>
<text class="m t" x="308" y="125.47">400</text>
<text class="m t" x="63.6" y="108.25" text-anchor="end">600</text>
<text class="m t" x="308" y="108.25">600</text>
<text class="m t" x="63.6" y="91.04" text-anchor="end">800</text>
<text class="m t" x="308" y="91.04">800</text>
<text class="m t" x="63.6" y="73.82" text-anchor="end">1000</text>
<text class="m t" x="308" y="73.82">1000</text>
<text class="m t" x="63.6" y="56.61" text-anchor="end">1200</text>
<text class="m t" x="308" y="56.61">1200</text>
<text class="m t" x="63.6" y="39.39" text-anchor="end">1400</text>
<text class="m t" x="308" y="39.39">1400</text>
<text class="m" x="163" y="295.3" textLength="36.7" lengthAdjust="spacingAndGlyphs">X (millimeters)</text>
<text class="m" x="139" y="302.2" textLength="84.4" lengthAdjust="spacingAndGlyphs">Min:0, Max:1.037, Ave:0.59536</text>
<text class="m" x="84" y="309" textLength="195.8" lengthAdjust="spacingAndGlyphs">Total Flux:3.7449 W, Flux/Emitted Flux:0.4161, 23405878 Incident Rays</text>
<text x="165.6" y="319.2" text-anchor="middle" style="font-family:'Liberation Sans',Arial,sans-serif;font-size:7.9px;fill:#111;stroke:#111;stroke-width:0.15px">(a)</text>
<rect x="51.2" y="320.6" width="229.2" height="216.5" fill="none" stroke="#d9d9d9" stroke-width="0.8"/>
<path d="M76.5 493.20H264.9M76.5 484.99H264.9M76.5 476.79H264.9M76.5 468.58H264.9M76.5 460.38H264.9M76.5 452.17H264.9M76.5 443.97H264.9M76.5 435.76H264.9M76.5 427.56H264.9M76.5 419.35H264.9M76.5 411.15H264.9M76.5 402.94H264.9M76.5 394.74H264.9M76.5 386.53H264.9M76.5 378.33H264.9M76.5 370.12H264.9M76.5 361.92H264.9M76.5 353.71H264.9M76.5 345.51H264.9M76.5 337.30H264.9M76.5 329.10H264.9" stroke="#6a6a6a" stroke-width="0.8" stroke-dasharray="1.5 1" fill="none"/>
<path d="M107.90 329.1V501.4M139.30 329.1V501.4M170.70 329.1V501.4M202.10 329.1V501.4M233.50 329.1V501.4M264.90 329.1V501.4" stroke="#9a9a9a" stroke-width="0.65" stroke-dasharray="0.8 0.7" fill="none"/>
<path d="M76.50 329.1V501.4H264.9" stroke="#bfbfbf" stroke-width="0.7" fill="none"/>
<text class="c" x="68.8" y="503.9" text-anchor="end">0</text>
<text class="c" x="68.8" y="495.7" text-anchor="end">0.05</text>
<text class="c" x="68.8" y="487.49" text-anchor="end">0.1</text>
<text class="c" x="68.8" y="479.29" text-anchor="end">0.15</text>
<text class="c" x="68.8" y="471.08" text-anchor="end">0.2</text>
<text class="c" x="68.8" y="462.88" text-anchor="end">0.25</text>
<text class="c" x="68.8" y="454.67" text-anchor="end">0.3</text>
<text class="c" x="68.8" y="446.47" text-anchor="end">0.35</text>
<text class="c" x="68.8" y="438.26" text-anchor="end">0.4</text>
<text class="c" x="68.8" y="430.06" text-anchor="end">0.45</text>
<text class="c" x="68.8" y="421.85" text-anchor="end">0.5</text>
<text class="c" x="68.8" y="413.65" text-anchor="end">0.55</text>
<text class="c" x="68.8" y="405.44" text-anchor="end">0.6</text>
<text class="c" x="68.8" y="397.24" text-anchor="end">0.65</text>
<text class="c" x="68.8" y="389.03" text-anchor="end">0.7</text>
<text class="c" x="68.8" y="380.83" text-anchor="end">0.75</text>
<text class="c" x="68.8" y="372.62" text-anchor="end">0.8</text>
<text class="c" x="68.8" y="364.42" text-anchor="end">0.85</text>
<text class="c" x="68.8" y="356.21" text-anchor="end">0.9</text>
<text class="c" x="68.8" y="348.01" text-anchor="end">0.95</text>
<text class="c" x="68.8" y="339.8" text-anchor="end">1</text>
<text class="c" x="68.8" y="331.6" text-anchor="end">1.05</text>
<text class="c" x="76.5" y="513.5" text-anchor="middle">-1500</text>
<text class="c" x="107.9" y="513.5" text-anchor="middle">-1000</text>
<text class="c" x="139.3" y="513.5" text-anchor="middle">-500</text>
<text class="c" x="170.7" y="513.5" text-anchor="middle">0</text>
<text class="c" x="202.1" y="513.5" text-anchor="middle">500</text>
<text class="c" x="233.5" y="513.5" text-anchor="middle">1000</text>
<text class="c" x="264.9" y="513.5" text-anchor="middle">1500</text>
<polyline points="82.3,459.2 83.5,454.9 84.8,452.0 86.0,449.5 87.3,445.0 88.6,441.1 89.8,437.3 91.1,433.9 92.3,429.8 93.6,426.4 94.8,422.9 96.1,417.5 97.3,413.1 98.6,409.2 99.9,407.3 101.1,404.7 102.4,401.7 103.6,398.6 104.9,393.4 106.1,391.4 107.4,388.4 108.7,383.4 109.9,377.7 111.2,375.9 112.4,375.8 113.7,373.1 114.9,368.9 116.2,368.3 117.4,367.8 118.7,364.8 120.0,360.0 121.2,355.5 122.5,357.9 123.7,355.8 125.0,354.8 126.2,355.7 127.5,351.8 128.7,348.8 130.0,343.5 131.3,344.5 132.5,346.0 133.8,341.6 135.0,342.6 136.3,344.8 137.5,342.6 138.8,341.7 140.1,341.6 141.3,340.7 142.6,343.8 143.8,340.2 145.1,336.7 146.3,336.2 147.6,335.6 148.8,335.2 150.1,335.2 151.4,339.0 152.6,337.1 153.9,340.8 155.1,339.7 156.4,340.2 157.6,334.7 158.9,333.8 160.1,336.0 161.4,334.0 162.7,337.8 163.9,337.4 165.2,337.8 166.4,339.6 167.7,336.4 168.9,334.0 170.2,338.3 171.5,336.1 172.7,336.5 174.0,333.9 175.2,335.9 176.5,336.4 177.7,336.8 179.0,338.6 180.2,341.1 181.5,337.6 182.8,341.4 184.0,339.4 185.3,338.8 186.5,341.2 187.8,339.5 189.0,337.6 190.3,339.9 191.5,342.9 192.8,346.1 194.1,342.6 195.3,340.6 196.6,340.1 197.8,341.5 199.1,340.5 200.3,342.3 201.6,342.1 202.9,341.6 204.1,344.6 205.4,343.5 206.6,339.3 207.9,342.0 209.1,346.6 210.4,345.9 211.6,346.5 212.9,348.1 214.2,353.0 215.4,357.2 216.7,358.7 217.9,357.7 219.2,359.5 220.4,362.7 221.7,364.2 222.9,365.7 224.2,365.6 225.5,368.5 226.7,368.1 228.0,370.4 229.2,375.2 230.5,379.8 231.7,381.0 233.0,385.8 234.3,388.5 235.5,393.3 236.8,398.6 238.0,401.7 239.3,405.1 240.5,407.9 241.8,410.4 243.0,413.7 244.3,418.2 245.6,421.7 246.8,423.6 248.1,427.9 249.3,432.7 250.6,436.2 251.8,440.7 253.1,444.6 254.3,447.2 255.6,451.4 256.9,455.5 258.1,457.3" fill="none" stroke="#ff0000" stroke-width="1.4" stroke-linejoin="round"/>
<polyline points="82.3,459.2 83.5,455.5 84.8,452.6 86.0,450.0 87.3,444.9 88.6,441.1 89.8,437.5 91.1,433.2 92.3,429.4 93.6,426.6 94.8,422.9 96.1,418.5 97.3,413.8 98.6,410.5 99.9,408.7 101.1,404.9 102.4,399.3 103.6,394.6 104.9,392.0 106.1,388.8 107.4,383.9 108.7,381.3 109.9,376.8 111.2,372.6 112.4,371.9 113.7,371.0 114.9,368.7 116.2,368.8 117.4,367.0 118.7,366.0 120.0,364.1 121.2,362.0 122.5,359.2 123.7,357.5 125.0,355.6 126.2,354.1 127.5,352.0 128.7,349.7 130.0,352.1 131.3,347.5 132.5,348.7 133.8,349.7 135.0,347.3 136.3,345.2 137.5,343.3 138.8,345.4 140.1,343.2 141.3,342.8 142.6,345.2 143.8,343.4 145.1,339.0 146.3,337.1 147.6,336.1 148.8,336.9 150.1,337.1 151.4,337.0 152.6,335.7 153.9,338.5 155.1,337.6 156.4,337.0 157.6,339.2 158.9,335.8 160.1,338.5 161.4,337.4 162.7,334.5 163.9,339.2 165.2,339.3 166.4,336.5 167.7,340.2 168.9,339.7 170.2,337.7 171.5,337.3 172.7,337.1 174.0,337.3 175.2,336.1 176.5,336.8 177.7,338.6 179.0,341.4 180.2,342.7 181.5,344.0 182.8,340.9 184.0,343.6 185.3,339.3 186.5,337.8 187.8,342.6 189.0,342.9 190.3,341.9 191.5,340.0 192.8,341.9 194.1,341.0 195.3,340.8 196.6,339.4 197.8,338.4 199.1,342.5 200.3,342.0 201.6,341.5 202.9,341.7 204.1,345.0 205.4,341.9 206.6,342.3 207.9,342.3 209.1,344.6 210.4,348.7 211.6,349.6 212.9,349.5 214.2,352.4 215.4,353.1 216.7,350.2 217.9,350.8 219.2,355.8 220.4,357.1 221.7,366.6 222.9,369.3 224.2,365.8 225.5,367.7 226.7,368.0 228.0,371.2 229.2,375.7 230.5,378.3 231.7,382.4 233.0,387.1 234.3,388.7 235.5,391.7 236.8,395.6 238.0,402.3 239.3,405.7 240.5,408.3 241.8,410.4 243.0,411.8 244.3,416.9 245.6,422.0 246.8,425.1 248.1,428.3 249.3,433.1 250.6,436.5 251.8,439.2 253.1,443.5 254.3,447.7 255.6,451.2 256.9,454.5 258.1,457.3" fill="none" stroke="#000" stroke-width="1.2" stroke-dasharray="2.4 1.4"/>
<line x1="115.1" x2="132.4" y1="526.7" y2="526.7" stroke="#ff0000" stroke-width="1.6"/>
<text class="c" x="134.2" y="529.1" textLength="32.6" lengthAdjust="spacingAndGlyphs">Horizontal</text>
<line x1="175" x2="193" y1="526.7" y2="526.7" stroke="#000" stroke-width="1.4" stroke-dasharray="3 1.8"/>
<text class="c" x="193.9" y="529.1" textLength="24.2" lengthAdjust="spacingAndGlyphs">Vertical</text>
<text x="165.6" y="546" text-anchor="middle" style="font-family:'Liberation Serif',serif;font-size:7.6px;fill:#111;stroke:#111;stroke-width:0.15px">(b)</text>
</svg>
</body></html>
